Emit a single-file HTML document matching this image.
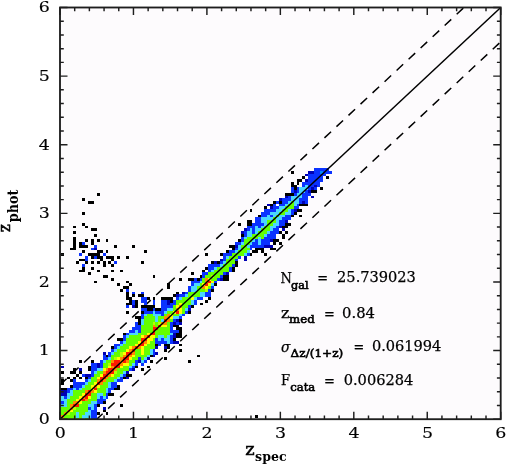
<!DOCTYPE html>
<html><head><meta charset="utf-8"><title>z_phot vs z_spec</title>
<style>html,body{margin:0;padding:0;background:#fff;width:507px;height:467px;overflow:hidden}svg{display:block}</style>
</head><body>
<svg width="507" height="467" viewBox="0 0 507 467"><rect x="0" y="0" width="507" height="467" fill="#ffffff"/>
<rect x="60" y="7.5" width="440.7" height="411.7" fill="#fdfbfd"/>
<defs><clipPath id="pc"><rect x="60" y="7.5" width="440.7" height="411.7"/></clipPath></defs>
<g clip-path="url(#pc)"><line x1="60" y1="384.89" x2="500.7" y2="-26.81" stroke="#000" stroke-width="1.5" stroke-dasharray="9 7.45"/><line x1="60" y1="453.51" x2="500.7" y2="41.81" stroke="#000" stroke-width="1.5" stroke-dasharray="9 7.45"/></g>
<g shape-rendering="crispEdges"><rect x="60" y="417.83" width="1.47" height="1.37" fill="#ffff00"/><rect x="61.47" y="417.83" width="2.94" height="1.37" fill="#ffff00"/><rect x="64.41" y="417.83" width="2.94" height="1.37" fill="#64ff00"/><rect x="67.34" y="417.83" width="2.94" height="1.37" fill="#64ff00"/><rect x="70.28" y="417.83" width="2.94" height="1.37" fill="#64ff00"/><rect x="73.22" y="417.83" width="2.94" height="1.37" fill="#64ff00"/><rect x="76.16" y="417.83" width="2.94" height="1.37" fill="#64ff00"/><rect x="79.1" y="417.83" width="2.94" height="1.37" fill="#64ff00"/><rect x="82.03" y="417.83" width="2.94" height="1.37" fill="#4ad6ff"/><rect x="84.97" y="417.83" width="2.94" height="1.37" fill="#64ff00"/><rect x="87.91" y="417.83" width="2.94" height="1.37" fill="#4ad6ff"/><rect x="90.85" y="417.83" width="2.94" height="1.37" fill="#0a32ff"/><rect x="93.79" y="417.83" width="2.94" height="1.37" fill="#0a32ff"/><rect x="60" y="415.08" width="1.47" height="2.74" fill="#64ff00"/><rect x="61.47" y="415.08" width="2.94" height="2.74" fill="#ff8c00"/><rect x="64.41" y="415.08" width="2.94" height="2.74" fill="#64ff00"/><rect x="67.34" y="415.08" width="2.94" height="2.74" fill="#64ff00"/><rect x="70.28" y="415.08" width="2.94" height="2.74" fill="#64ff00"/><rect x="73.22" y="415.08" width="2.94" height="2.74" fill="#64ff00"/><rect x="76.16" y="415.08" width="2.94" height="2.74" fill="#4ad6ff"/><rect x="79.1" y="415.08" width="2.94" height="2.74" fill="#64ff00"/><rect x="82.03" y="415.08" width="2.94" height="2.74" fill="#4ad6ff"/><rect x="84.97" y="415.08" width="2.94" height="2.74" fill="#4ad6ff"/><rect x="87.91" y="415.08" width="2.94" height="2.74" fill="#4ad6ff"/><rect x="90.85" y="415.08" width="2.94" height="2.74" fill="#0a32ff"/><rect x="93.79" y="415.08" width="2.94" height="2.74" fill="#0a32ff"/><rect x="255.38" y="415.08" width="2.94" height="2.74" fill="#000000"/><rect x="60" y="412.34" width="1.47" height="2.74" fill="#64ff00"/><rect x="61.47" y="412.34" width="2.94" height="2.74" fill="#64ff00"/><rect x="64.41" y="412.34" width="2.94" height="2.74" fill="#ff8c00"/><rect x="67.34" y="412.34" width="2.94" height="2.74" fill="#b4ff00"/><rect x="70.28" y="412.34" width="2.94" height="2.74" fill="#64ff00"/><rect x="73.22" y="412.34" width="2.94" height="2.74" fill="#64ff00"/><rect x="76.16" y="412.34" width="2.94" height="2.74" fill="#4ad6ff"/><rect x="79.1" y="412.34" width="2.94" height="2.74" fill="#64ff00"/><rect x="82.03" y="412.34" width="2.94" height="2.74" fill="#64ff00"/><rect x="84.97" y="412.34" width="2.94" height="2.74" fill="#4ad6ff"/><rect x="87.91" y="412.34" width="2.94" height="2.74" fill="#4ad6ff"/><rect x="90.85" y="412.34" width="2.94" height="2.74" fill="#0a32ff"/><rect x="93.79" y="412.34" width="2.94" height="2.74" fill="#0a32ff"/><rect x="96.72" y="412.34" width="2.94" height="2.74" fill="#000000"/><rect x="105.54" y="412.34" width="2.94" height="2.74" fill="#000000"/><rect x="60" y="409.59" width="1.47" height="2.74" fill="#64ff00"/><rect x="61.47" y="409.59" width="2.94" height="2.74" fill="#64ff00"/><rect x="64.41" y="409.59" width="2.94" height="2.74" fill="#64ff00"/><rect x="67.34" y="409.59" width="2.94" height="2.74" fill="#ff8c00"/><rect x="70.28" y="409.59" width="2.94" height="2.74" fill="#ffff00"/><rect x="73.22" y="409.59" width="2.94" height="2.74" fill="#64ff00"/><rect x="76.16" y="409.59" width="2.94" height="2.74" fill="#64ff00"/><rect x="79.1" y="409.59" width="2.94" height="2.74" fill="#64ff00"/><rect x="82.03" y="409.59" width="2.94" height="2.74" fill="#64ff00"/><rect x="84.97" y="409.59" width="2.94" height="2.74" fill="#64ff00"/><rect x="87.91" y="409.59" width="2.94" height="2.74" fill="#4ad6ff"/><rect x="90.85" y="409.59" width="2.94" height="2.74" fill="#0a32ff"/><rect x="93.79" y="409.59" width="2.94" height="2.74" fill="#0a32ff"/><rect x="102.6" y="409.59" width="2.94" height="2.74" fill="#000000"/><rect x="60" y="406.85" width="1.47" height="2.74" fill="#64ff00"/><rect x="61.47" y="406.85" width="2.94" height="2.74" fill="#64ff00"/><rect x="64.41" y="406.85" width="2.94" height="2.74" fill="#64ff00"/><rect x="67.34" y="406.85" width="2.94" height="2.74" fill="#64ff00"/><rect x="70.28" y="406.85" width="2.94" height="2.74" fill="#ff8c00"/><rect x="73.22" y="406.85" width="2.94" height="2.74" fill="#b4ff00"/><rect x="76.16" y="406.85" width="2.94" height="2.74" fill="#64ff00"/><rect x="79.1" y="406.85" width="2.94" height="2.74" fill="#64ff00"/><rect x="82.03" y="406.85" width="2.94" height="2.74" fill="#64ff00"/><rect x="84.97" y="406.85" width="2.94" height="2.74" fill="#64ff00"/><rect x="87.91" y="406.85" width="2.94" height="2.74" fill="#0a32ff"/><rect x="90.85" y="406.85" width="2.94" height="2.74" fill="#4ad6ff"/><rect x="93.79" y="406.85" width="2.94" height="2.74" fill="#0a32ff"/><rect x="102.6" y="406.85" width="2.94" height="2.74" fill="#0000b4"/><rect x="60" y="404.1" width="1.47" height="2.74" fill="#4ad6ff"/><rect x="61.47" y="404.1" width="2.94" height="2.74" fill="#4ad6ff"/><rect x="64.41" y="404.1" width="2.94" height="2.74" fill="#4ad6ff"/><rect x="67.34" y="404.1" width="2.94" height="2.74" fill="#64ff00"/><rect x="70.28" y="404.1" width="2.94" height="2.74" fill="#ff8c00"/><rect x="73.22" y="404.1" width="2.94" height="2.74" fill="#ff1a00"/><rect x="76.16" y="404.1" width="2.94" height="2.74" fill="#ff1a00"/><rect x="79.1" y="404.1" width="2.94" height="2.74" fill="#64ff00"/><rect x="82.03" y="404.1" width="2.94" height="2.74" fill="#64ff00"/><rect x="84.97" y="404.1" width="2.94" height="2.74" fill="#64ff00"/><rect x="87.91" y="404.1" width="2.94" height="2.74" fill="#4ad6ff"/><rect x="90.85" y="404.1" width="2.94" height="2.74" fill="#4ad6ff"/><rect x="93.79" y="404.1" width="2.94" height="2.74" fill="#0a32ff"/><rect x="96.72" y="404.1" width="2.94" height="2.74" fill="#000000"/><rect x="120.23" y="404.1" width="2.94" height="2.74" fill="#000000"/><rect x="60" y="401.36" width="1.47" height="2.74" fill="#0a32ff"/><rect x="61.47" y="401.36" width="2.94" height="2.74" fill="#0a32ff"/><rect x="64.41" y="401.36" width="2.94" height="2.74" fill="#4ad6ff"/><rect x="67.34" y="401.36" width="2.94" height="2.74" fill="#64ff00"/><rect x="70.28" y="401.36" width="2.94" height="2.74" fill="#64ff00"/><rect x="73.22" y="401.36" width="2.94" height="2.74" fill="#ff8c00"/><rect x="76.16" y="401.36" width="2.94" height="2.74" fill="#ff8c00"/><rect x="79.1" y="401.36" width="2.94" height="2.74" fill="#ffff00"/><rect x="82.03" y="401.36" width="2.94" height="2.74" fill="#64ff00"/><rect x="84.97" y="401.36" width="2.94" height="2.74" fill="#64ff00"/><rect x="87.91" y="401.36" width="2.94" height="2.74" fill="#64ff00"/><rect x="90.85" y="401.36" width="2.94" height="2.74" fill="#4ad6ff"/><rect x="93.79" y="401.36" width="2.94" height="2.74" fill="#4ad6ff"/><rect x="96.72" y="401.36" width="2.94" height="2.74" fill="#0a32ff"/><rect x="99.66" y="401.36" width="2.94" height="2.74" fill="#0a32ff"/><rect x="102.6" y="401.36" width="2.94" height="2.74" fill="#000000"/><rect x="60" y="398.62" width="1.47" height="2.74" fill="#4ad6ff"/><rect x="61.47" y="398.62" width="2.94" height="2.74" fill="#4ad6ff"/><rect x="64.41" y="398.62" width="2.94" height="2.74" fill="#4ad6ff"/><rect x="67.34" y="398.62" width="2.94" height="2.74" fill="#64ff00"/><rect x="70.28" y="398.62" width="2.94" height="2.74" fill="#64ff00"/><rect x="73.22" y="398.62" width="2.94" height="2.74" fill="#64ff00"/><rect x="76.16" y="398.62" width="2.94" height="2.74" fill="#ffff00"/><rect x="79.1" y="398.62" width="2.94" height="2.74" fill="#ff8c00"/><rect x="82.03" y="398.62" width="2.94" height="2.74" fill="#ff1a00"/><rect x="84.97" y="398.62" width="2.94" height="2.74" fill="#ff8c00"/><rect x="87.91" y="398.62" width="2.94" height="2.74" fill="#64ff00"/><rect x="90.85" y="398.62" width="2.94" height="2.74" fill="#64ff00"/><rect x="93.79" y="398.62" width="2.94" height="2.74" fill="#64ff00"/><rect x="96.72" y="398.62" width="2.94" height="2.74" fill="#0a32ff"/><rect x="99.66" y="398.62" width="2.94" height="2.74" fill="#0a32ff"/><rect x="102.6" y="398.62" width="2.94" height="2.74" fill="#0a32ff"/><rect x="60" y="395.87" width="1.47" height="2.74" fill="#4ad6ff"/><rect x="61.47" y="395.87" width="2.94" height="2.74" fill="#4ad6ff"/><rect x="64.41" y="395.87" width="2.94" height="2.74" fill="#0a32ff"/><rect x="67.34" y="395.87" width="2.94" height="2.74" fill="#4ad6ff"/><rect x="70.28" y="395.87" width="2.94" height="2.74" fill="#64ff00"/><rect x="73.22" y="395.87" width="2.94" height="2.74" fill="#64ff00"/><rect x="76.16" y="395.87" width="2.94" height="2.74" fill="#64ff00"/><rect x="79.1" y="395.87" width="2.94" height="2.74" fill="#ffff00"/><rect x="82.03" y="395.87" width="2.94" height="2.74" fill="#ff8c00"/><rect x="84.97" y="395.87" width="2.94" height="2.74" fill="#ff1a00"/><rect x="87.91" y="395.87" width="2.94" height="2.74" fill="#ffff00"/><rect x="90.85" y="395.87" width="2.94" height="2.74" fill="#64ff00"/><rect x="93.79" y="395.87" width="2.94" height="2.74" fill="#64ff00"/><rect x="96.72" y="395.87" width="2.94" height="2.74" fill="#4ad6ff"/><rect x="99.66" y="395.87" width="2.94" height="2.74" fill="#0a32ff"/><rect x="102.6" y="395.87" width="2.94" height="2.74" fill="#4ad6ff"/><rect x="105.54" y="395.87" width="2.94" height="2.74" fill="#0a32ff"/><rect x="60" y="393.13" width="1.47" height="2.74" fill="#0000b4"/><rect x="61.47" y="393.13" width="2.94" height="2.74" fill="#0000b4"/><rect x="64.41" y="393.13" width="2.94" height="2.74" fill="#0000b4"/><rect x="67.34" y="393.13" width="2.94" height="2.74" fill="#4ad6ff"/><rect x="70.28" y="393.13" width="2.94" height="2.74" fill="#4ad6ff"/><rect x="73.22" y="393.13" width="2.94" height="2.74" fill="#64ff00"/><rect x="76.16" y="393.13" width="2.94" height="2.74" fill="#64ff00"/><rect x="79.1" y="393.13" width="2.94" height="2.74" fill="#64ff00"/><rect x="82.03" y="393.13" width="2.94" height="2.74" fill="#ffff00"/><rect x="84.97" y="393.13" width="2.94" height="2.74" fill="#ff1a00"/><rect x="87.91" y="393.13" width="2.94" height="2.74" fill="#ff1a00"/><rect x="90.85" y="393.13" width="2.94" height="2.74" fill="#64ff00"/><rect x="93.79" y="393.13" width="2.94" height="2.74" fill="#64ff00"/><rect x="96.72" y="393.13" width="2.94" height="2.74" fill="#4ad6ff"/><rect x="99.66" y="393.13" width="2.94" height="2.74" fill="#4ad6ff"/><rect x="102.6" y="393.13" width="2.94" height="2.74" fill="#64ff00"/><rect x="105.54" y="393.13" width="2.94" height="2.74" fill="#0a32ff"/><rect x="108.48" y="393.13" width="2.94" height="2.74" fill="#000000"/><rect x="111.42" y="393.13" width="2.94" height="2.74" fill="#000000"/><rect x="60" y="390.38" width="1.47" height="2.74" fill="#0000b4"/><rect x="61.47" y="390.38" width="2.94" height="2.74" fill="#0000b4"/><rect x="64.41" y="390.38" width="2.94" height="2.74" fill="#0000b4"/><rect x="67.34" y="390.38" width="2.94" height="2.74" fill="#0a32ff"/><rect x="70.28" y="390.38" width="2.94" height="2.74" fill="#4ad6ff"/><rect x="73.22" y="390.38" width="2.94" height="2.74" fill="#64ff00"/><rect x="76.16" y="390.38" width="2.94" height="2.74" fill="#64ff00"/><rect x="79.1" y="390.38" width="2.94" height="2.74" fill="#64ff00"/><rect x="82.03" y="390.38" width="2.94" height="2.74" fill="#64ff00"/><rect x="84.97" y="390.38" width="2.94" height="2.74" fill="#ff8c00"/><rect x="87.91" y="390.38" width="2.94" height="2.74" fill="#ff1a00"/><rect x="90.85" y="390.38" width="2.94" height="2.74" fill="#ff8c00"/><rect x="93.79" y="390.38" width="2.94" height="2.74" fill="#ffff00"/><rect x="96.72" y="390.38" width="2.94" height="2.74" fill="#64ff00"/><rect x="99.66" y="390.38" width="2.94" height="2.74" fill="#64ff00"/><rect x="102.6" y="390.38" width="2.94" height="2.74" fill="#64ff00"/><rect x="105.54" y="390.38" width="2.94" height="2.74" fill="#4ad6ff"/><rect x="108.48" y="390.38" width="2.94" height="2.74" fill="#0a32ff"/><rect x="60" y="387.64" width="1.47" height="2.74" fill="#000000"/><rect x="61.47" y="387.64" width="2.94" height="2.74" fill="#000000"/><rect x="64.41" y="387.64" width="2.94" height="2.74" fill="#000000"/><rect x="67.34" y="387.64" width="2.94" height="2.74" fill="#0a32ff"/><rect x="70.28" y="387.64" width="2.94" height="2.74" fill="#0a32ff"/><rect x="73.22" y="387.64" width="2.94" height="2.74" fill="#4ad6ff"/><rect x="76.16" y="387.64" width="2.94" height="2.74" fill="#0a32ff"/><rect x="79.1" y="387.64" width="2.94" height="2.74" fill="#4ad6ff"/><rect x="82.03" y="387.64" width="2.94" height="2.74" fill="#64ff00"/><rect x="84.97" y="387.64" width="2.94" height="2.74" fill="#64ff00"/><rect x="87.91" y="387.64" width="2.94" height="2.74" fill="#64ff00"/><rect x="90.85" y="387.64" width="2.94" height="2.74" fill="#ffff00"/><rect x="93.79" y="387.64" width="2.94" height="2.74" fill="#ff1a00"/><rect x="96.72" y="387.64" width="2.94" height="2.74" fill="#64ff00"/><rect x="99.66" y="387.64" width="2.94" height="2.74" fill="#64ff00"/><rect x="102.6" y="387.64" width="2.94" height="2.74" fill="#64ff00"/><rect x="105.54" y="387.64" width="2.94" height="2.74" fill="#4ad6ff"/><rect x="108.48" y="387.64" width="2.94" height="2.74" fill="#0a32ff"/><rect x="111.42" y="387.64" width="2.94" height="2.74" fill="#0a32ff"/><rect x="114.35" y="387.64" width="2.94" height="2.74" fill="#000000"/><rect x="117.29" y="387.64" width="2.94" height="2.74" fill="#000000"/><rect x="70.28" y="384.89" width="2.94" height="2.74" fill="#000000"/><rect x="73.22" y="384.89" width="2.94" height="2.74" fill="#0a32ff"/><rect x="76.16" y="384.89" width="2.94" height="2.74" fill="#0a32ff"/><rect x="79.1" y="384.89" width="2.94" height="2.74" fill="#0a32ff"/><rect x="82.03" y="384.89" width="2.94" height="2.74" fill="#4ad6ff"/><rect x="84.97" y="384.89" width="2.94" height="2.74" fill="#64ff00"/><rect x="87.91" y="384.89" width="2.94" height="2.74" fill="#64ff00"/><rect x="90.85" y="384.89" width="2.94" height="2.74" fill="#ffff00"/><rect x="93.79" y="384.89" width="2.94" height="2.74" fill="#ff8c00"/><rect x="96.72" y="384.89" width="2.94" height="2.74" fill="#ffff00"/><rect x="99.66" y="384.89" width="2.94" height="2.74" fill="#64ff00"/><rect x="102.6" y="384.89" width="2.94" height="2.74" fill="#64ff00"/><rect x="105.54" y="384.89" width="2.94" height="2.74" fill="#64ff00"/><rect x="108.48" y="384.89" width="2.94" height="2.74" fill="#4ad6ff"/><rect x="111.42" y="384.89" width="2.94" height="2.74" fill="#0a32ff"/><rect x="114.35" y="384.89" width="2.94" height="2.74" fill="#0a32ff"/><rect x="117.29" y="384.89" width="2.94" height="2.74" fill="#000000"/><rect x="61.47" y="382.15" width="2.94" height="2.74" fill="#000000"/><rect x="73.22" y="382.15" width="2.94" height="2.74" fill="#0a32ff"/><rect x="76.16" y="382.15" width="2.94" height="2.74" fill="#0a32ff"/><rect x="79.1" y="382.15" width="2.94" height="2.74" fill="#0a32ff"/><rect x="82.03" y="382.15" width="2.94" height="2.74" fill="#0a32ff"/><rect x="84.97" y="382.15" width="2.94" height="2.74" fill="#4ad6ff"/><rect x="87.91" y="382.15" width="2.94" height="2.74" fill="#64ff00"/><rect x="90.85" y="382.15" width="2.94" height="2.74" fill="#64ff00"/><rect x="93.79" y="382.15" width="2.94" height="2.74" fill="#ffff00"/><rect x="96.72" y="382.15" width="2.94" height="2.74" fill="#ff1a00"/><rect x="99.66" y="382.15" width="2.94" height="2.74" fill="#ff8c00"/><rect x="102.6" y="382.15" width="2.94" height="2.74" fill="#64ff00"/><rect x="105.54" y="382.15" width="2.94" height="2.74" fill="#64ff00"/><rect x="108.48" y="382.15" width="2.94" height="2.74" fill="#4ad6ff"/><rect x="111.42" y="382.15" width="2.94" height="2.74" fill="#0a32ff"/><rect x="114.35" y="382.15" width="2.94" height="2.74" fill="#0a32ff"/><rect x="61.47" y="379.4" width="2.94" height="2.74" fill="#000000"/><rect x="70.28" y="379.4" width="2.94" height="2.74" fill="#000000"/><rect x="73.22" y="379.4" width="2.94" height="2.74" fill="#0a32ff"/><rect x="84.97" y="379.4" width="2.94" height="2.74" fill="#0a32ff"/><rect x="87.91" y="379.4" width="2.94" height="2.74" fill="#4ad6ff"/><rect x="90.85" y="379.4" width="2.94" height="2.74" fill="#64ff00"/><rect x="93.79" y="379.4" width="2.94" height="2.74" fill="#64ff00"/><rect x="96.72" y="379.4" width="2.94" height="2.74" fill="#ff8c00"/><rect x="99.66" y="379.4" width="2.94" height="2.74" fill="#ff1a00"/><rect x="102.6" y="379.4" width="2.94" height="2.74" fill="#ff8c00"/><rect x="105.54" y="379.4" width="2.94" height="2.74" fill="#64ff00"/><rect x="108.48" y="379.4" width="2.94" height="2.74" fill="#64ff00"/><rect x="111.42" y="379.4" width="2.94" height="2.74" fill="#64ff00"/><rect x="114.35" y="379.4" width="2.94" height="2.74" fill="#4ad6ff"/><rect x="117.29" y="379.4" width="2.94" height="2.74" fill="#0a32ff"/><rect x="120.23" y="379.4" width="2.94" height="2.74" fill="#0a32ff"/><rect x="67.34" y="376.66" width="2.94" height="2.74" fill="#000000"/><rect x="73.22" y="376.66" width="2.94" height="2.74" fill="#000000"/><rect x="79.1" y="376.66" width="2.94" height="2.74" fill="#000000"/><rect x="84.97" y="376.66" width="2.94" height="2.74" fill="#000000"/><rect x="87.91" y="376.66" width="2.94" height="2.74" fill="#0a32ff"/><rect x="90.85" y="376.66" width="2.94" height="2.74" fill="#64ff00"/><rect x="93.79" y="376.66" width="2.94" height="2.74" fill="#64ff00"/><rect x="96.72" y="376.66" width="2.94" height="2.74" fill="#ffff00"/><rect x="99.66" y="376.66" width="2.94" height="2.74" fill="#ff1a00"/><rect x="102.6" y="376.66" width="2.94" height="2.74" fill="#ff1a00"/><rect x="105.54" y="376.66" width="2.94" height="2.74" fill="#ff8c00"/><rect x="108.48" y="376.66" width="2.94" height="2.74" fill="#64ff00"/><rect x="111.42" y="376.66" width="2.94" height="2.74" fill="#64ff00"/><rect x="114.35" y="376.66" width="2.94" height="2.74" fill="#64ff00"/><rect x="117.29" y="376.66" width="2.94" height="2.74" fill="#4ad6ff"/><rect x="120.23" y="376.66" width="2.94" height="2.74" fill="#0a32ff"/><rect x="123.17" y="376.66" width="2.94" height="2.74" fill="#000000"/><rect x="126.11" y="376.66" width="2.94" height="2.74" fill="#0000b4"/><rect x="76.16" y="373.91" width="2.94" height="2.74" fill="#000000"/><rect x="82.03" y="373.91" width="2.94" height="2.74" fill="#0a32ff"/><rect x="84.97" y="373.91" width="2.94" height="2.74" fill="#0000b4"/><rect x="87.91" y="373.91" width="2.94" height="2.74" fill="#0000b4"/><rect x="90.85" y="373.91" width="2.94" height="2.74" fill="#0a32ff"/><rect x="93.79" y="373.91" width="2.94" height="2.74" fill="#64ff00"/><rect x="96.72" y="373.91" width="2.94" height="2.74" fill="#64ff00"/><rect x="99.66" y="373.91" width="2.94" height="2.74" fill="#ffff00"/><rect x="102.6" y="373.91" width="2.94" height="2.74" fill="#ff1a00"/><rect x="105.54" y="373.91" width="2.94" height="2.74" fill="#ff1a00"/><rect x="108.48" y="373.91" width="2.94" height="2.74" fill="#ff8c00"/><rect x="111.42" y="373.91" width="2.94" height="2.74" fill="#ffff00"/><rect x="114.35" y="373.91" width="2.94" height="2.74" fill="#64ff00"/><rect x="117.29" y="373.91" width="2.94" height="2.74" fill="#64ff00"/><rect x="120.23" y="373.91" width="2.94" height="2.74" fill="#4ad6ff"/><rect x="123.17" y="373.91" width="2.94" height="2.74" fill="#0a32ff"/><rect x="126.11" y="373.91" width="2.94" height="2.74" fill="#000000"/><rect x="129.04" y="373.91" width="2.94" height="2.74" fill="#000000"/><rect x="61.47" y="371.17" width="2.94" height="2.74" fill="#000000"/><rect x="70.28" y="371.17" width="2.94" height="2.74" fill="#000000"/><rect x="73.22" y="371.17" width="2.94" height="2.74" fill="#000000"/><rect x="79.1" y="371.17" width="2.94" height="2.74" fill="#000000"/><rect x="90.85" y="371.17" width="2.94" height="2.74" fill="#0a32ff"/><rect x="93.79" y="371.17" width="2.94" height="2.74" fill="#4ad6ff"/><rect x="96.72" y="371.17" width="2.94" height="2.74" fill="#64ff00"/><rect x="99.66" y="371.17" width="2.94" height="2.74" fill="#64ff00"/><rect x="102.6" y="371.17" width="2.94" height="2.74" fill="#ff8c00"/><rect x="105.54" y="371.17" width="2.94" height="2.74" fill="#ff1a00"/><rect x="108.48" y="371.17" width="2.94" height="2.74" fill="#ff1a00"/><rect x="111.42" y="371.17" width="2.94" height="2.74" fill="#ff1a00"/><rect x="114.35" y="371.17" width="2.94" height="2.74" fill="#b4ff00"/><rect x="117.29" y="371.17" width="2.94" height="2.74" fill="#64ff00"/><rect x="120.23" y="371.17" width="2.94" height="2.74" fill="#64ff00"/><rect x="123.17" y="371.17" width="2.94" height="2.74" fill="#4ad6ff"/><rect x="126.11" y="371.17" width="2.94" height="2.74" fill="#0000b4"/><rect x="73.22" y="368.42" width="2.94" height="2.74" fill="#000000"/><rect x="79.1" y="368.42" width="2.94" height="2.74" fill="#0000b4"/><rect x="87.91" y="368.42" width="2.94" height="2.74" fill="#000000"/><rect x="90.85" y="368.42" width="2.94" height="2.74" fill="#0a32ff"/><rect x="93.79" y="368.42" width="2.94" height="2.74" fill="#0a32ff"/><rect x="96.72" y="368.42" width="2.94" height="2.74" fill="#4ad6ff"/><rect x="99.66" y="368.42" width="2.94" height="2.74" fill="#4ad6ff"/><rect x="102.6" y="368.42" width="2.94" height="2.74" fill="#ffff00"/><rect x="105.54" y="368.42" width="2.94" height="2.74" fill="#ff8c00"/><rect x="108.48" y="368.42" width="2.94" height="2.74" fill="#ff1a00"/><rect x="111.42" y="368.42" width="2.94" height="2.74" fill="#ff1a00"/><rect x="114.35" y="368.42" width="2.94" height="2.74" fill="#ff8c00"/><rect x="117.29" y="368.42" width="2.94" height="2.74" fill="#64ff00"/><rect x="120.23" y="368.42" width="2.94" height="2.74" fill="#64ff00"/><rect x="123.17" y="368.42" width="2.94" height="2.74" fill="#64ff00"/><rect x="126.11" y="368.42" width="2.94" height="2.74" fill="#64ff00"/><rect x="129.04" y="368.42" width="2.94" height="2.74" fill="#0a32ff"/><rect x="131.98" y="368.42" width="2.94" height="2.74" fill="#0000b4"/><rect x="140.8" y="368.42" width="2.94" height="2.74" fill="#000000"/><rect x="61.47" y="365.68" width="2.94" height="2.74" fill="#0000b4"/><rect x="87.91" y="365.68" width="2.94" height="2.74" fill="#000000"/><rect x="90.85" y="365.68" width="2.94" height="2.74" fill="#0a32ff"/><rect x="93.79" y="365.68" width="2.94" height="2.74" fill="#0a32ff"/><rect x="96.72" y="365.68" width="2.94" height="2.74" fill="#0000b4"/><rect x="99.66" y="365.68" width="2.94" height="2.74" fill="#0a32ff"/><rect x="102.6" y="365.68" width="2.94" height="2.74" fill="#64ff00"/><rect x="105.54" y="365.68" width="2.94" height="2.74" fill="#64ff00"/><rect x="108.48" y="365.68" width="2.94" height="2.74" fill="#ffff00"/><rect x="111.42" y="365.68" width="2.94" height="2.74" fill="#ff8c00"/><rect x="114.35" y="365.68" width="2.94" height="2.74" fill="#ff1a00"/><rect x="117.29" y="365.68" width="2.94" height="2.74" fill="#ff1a00"/><rect x="120.23" y="365.68" width="2.94" height="2.74" fill="#ffff00"/><rect x="123.17" y="365.68" width="2.94" height="2.74" fill="#64ff00"/><rect x="126.11" y="365.68" width="2.94" height="2.74" fill="#64ff00"/><rect x="129.04" y="365.68" width="2.94" height="2.74" fill="#4ad6ff"/><rect x="131.98" y="365.68" width="2.94" height="2.74" fill="#0a32ff"/><rect x="134.92" y="365.68" width="2.94" height="2.74" fill="#000000"/><rect x="146.67" y="365.68" width="2.94" height="2.74" fill="#000000"/><rect x="90.85" y="362.93" width="2.94" height="2.74" fill="#0a32ff"/><rect x="93.79" y="362.93" width="2.94" height="2.74" fill="#0a32ff"/><rect x="96.72" y="362.93" width="2.94" height="2.74" fill="#0000b4"/><rect x="99.66" y="362.93" width="2.94" height="2.74" fill="#0a32ff"/><rect x="102.6" y="362.93" width="2.94" height="2.74" fill="#64ff00"/><rect x="105.54" y="362.93" width="2.94" height="2.74" fill="#64ff00"/><rect x="108.48" y="362.93" width="2.94" height="2.74" fill="#b4ff00"/><rect x="111.42" y="362.93" width="2.94" height="2.74" fill="#ff1a00"/><rect x="114.35" y="362.93" width="2.94" height="2.74" fill="#ff1a00"/><rect x="117.29" y="362.93" width="2.94" height="2.74" fill="#ff1a00"/><rect x="120.23" y="362.93" width="2.94" height="2.74" fill="#ff8c00"/><rect x="123.17" y="362.93" width="2.94" height="2.74" fill="#ffff00"/><rect x="126.11" y="362.93" width="2.94" height="2.74" fill="#ffff00"/><rect x="129.04" y="362.93" width="2.94" height="2.74" fill="#64ff00"/><rect x="131.98" y="362.93" width="2.94" height="2.74" fill="#4ad6ff"/><rect x="134.92" y="362.93" width="2.94" height="2.74" fill="#0a32ff"/><rect x="140.8" y="362.93" width="2.94" height="2.74" fill="#0a32ff"/><rect x="79.1" y="360.19" width="2.94" height="2.74" fill="#000000"/><rect x="90.85" y="360.19" width="2.94" height="2.74" fill="#000000"/><rect x="99.66" y="360.19" width="2.94" height="2.74" fill="#0a32ff"/><rect x="102.6" y="360.19" width="2.94" height="2.74" fill="#4ad6ff"/><rect x="105.54" y="360.19" width="2.94" height="2.74" fill="#64ff00"/><rect x="108.48" y="360.19" width="2.94" height="2.74" fill="#64ff00"/><rect x="111.42" y="360.19" width="2.94" height="2.74" fill="#ff8c00"/><rect x="114.35" y="360.19" width="2.94" height="2.74" fill="#ff1a00"/><rect x="117.29" y="360.19" width="2.94" height="2.74" fill="#ff1a00"/><rect x="120.23" y="360.19" width="2.94" height="2.74" fill="#ff8c00"/><rect x="123.17" y="360.19" width="2.94" height="2.74" fill="#ff1a00"/><rect x="126.11" y="360.19" width="2.94" height="2.74" fill="#ff8c00"/><rect x="129.04" y="360.19" width="2.94" height="2.74" fill="#64ff00"/><rect x="131.98" y="360.19" width="2.94" height="2.74" fill="#64ff00"/><rect x="134.92" y="360.19" width="2.94" height="2.74" fill="#0a32ff"/><rect x="137.86" y="360.19" width="2.94" height="2.74" fill="#0000b4"/><rect x="140.8" y="360.19" width="2.94" height="2.74" fill="#4ad6ff"/><rect x="143.73" y="360.19" width="2.94" height="2.74" fill="#0a32ff"/><rect x="149.61" y="360.19" width="2.94" height="2.74" fill="#000000"/><rect x="187.8" y="360.19" width="2.94" height="2.74" fill="#000000"/><rect x="102.6" y="357.44" width="2.94" height="2.74" fill="#0a32ff"/><rect x="105.54" y="357.44" width="2.94" height="2.74" fill="#0a32ff"/><rect x="108.48" y="357.44" width="2.94" height="2.74" fill="#4ad6ff"/><rect x="111.42" y="357.44" width="2.94" height="2.74" fill="#64ff00"/><rect x="114.35" y="357.44" width="2.94" height="2.74" fill="#b4ff00"/><rect x="117.29" y="357.44" width="2.94" height="2.74" fill="#ffff00"/><rect x="120.23" y="357.44" width="2.94" height="2.74" fill="#ff8c00"/><rect x="123.17" y="357.44" width="2.94" height="2.74" fill="#ff1a00"/><rect x="126.11" y="357.44" width="2.94" height="2.74" fill="#ff1a00"/><rect x="129.04" y="357.44" width="2.94" height="2.74" fill="#ffff00"/><rect x="131.98" y="357.44" width="2.94" height="2.74" fill="#64ff00"/><rect x="134.92" y="357.44" width="2.94" height="2.74" fill="#64ff00"/><rect x="137.86" y="357.44" width="2.94" height="2.74" fill="#0a32ff"/><rect x="140.8" y="357.44" width="2.94" height="2.74" fill="#64ff00"/><rect x="143.73" y="357.44" width="2.94" height="2.74" fill="#4ad6ff"/><rect x="146.67" y="357.44" width="2.94" height="2.74" fill="#0000b4"/><rect x="164.3" y="357.44" width="2.94" height="2.74" fill="#000000"/><rect x="102.6" y="354.7" width="2.94" height="2.74" fill="#0a32ff"/><rect x="105.54" y="354.7" width="2.94" height="2.74" fill="#000000"/><rect x="108.48" y="354.7" width="2.94" height="2.74" fill="#0a32ff"/><rect x="111.42" y="354.7" width="2.94" height="2.74" fill="#64ff00"/><rect x="114.35" y="354.7" width="2.94" height="2.74" fill="#64ff00"/><rect x="117.29" y="354.7" width="2.94" height="2.74" fill="#64ff00"/><rect x="120.23" y="354.7" width="2.94" height="2.74" fill="#b4ff00"/><rect x="123.17" y="354.7" width="2.94" height="2.74" fill="#ff8c00"/><rect x="126.11" y="354.7" width="2.94" height="2.74" fill="#ff1a00"/><rect x="129.04" y="354.7" width="2.94" height="2.74" fill="#ff8c00"/><rect x="131.98" y="354.7" width="2.94" height="2.74" fill="#ffff00"/><rect x="134.92" y="354.7" width="2.94" height="2.74" fill="#64ff00"/><rect x="137.86" y="354.7" width="2.94" height="2.74" fill="#64ff00"/><rect x="140.8" y="354.7" width="2.94" height="2.74" fill="#64ff00"/><rect x="143.73" y="354.7" width="2.94" height="2.74" fill="#64ff00"/><rect x="146.67" y="354.7" width="2.94" height="2.74" fill="#4ad6ff"/><rect x="149.61" y="354.7" width="2.94" height="2.74" fill="#000000"/><rect x="152.55" y="354.7" width="2.94" height="2.74" fill="#0000b4"/><rect x="196.62" y="354.7" width="2.94" height="2.74" fill="#000000"/><rect x="102.6" y="351.96" width="2.94" height="2.74" fill="#0000b4"/><rect x="108.48" y="351.96" width="2.94" height="2.74" fill="#0a32ff"/><rect x="111.42" y="351.96" width="2.94" height="2.74" fill="#4ad6ff"/><rect x="114.35" y="351.96" width="2.94" height="2.74" fill="#64ff00"/><rect x="117.29" y="351.96" width="2.94" height="2.74" fill="#64ff00"/><rect x="120.23" y="351.96" width="2.94" height="2.74" fill="#b4ff00"/><rect x="123.17" y="351.96" width="2.94" height="2.74" fill="#ffff00"/><rect x="126.11" y="351.96" width="2.94" height="2.74" fill="#ff1a00"/><rect x="129.04" y="351.96" width="2.94" height="2.74" fill="#ff1a00"/><rect x="131.98" y="351.96" width="2.94" height="2.74" fill="#ff8c00"/><rect x="134.92" y="351.96" width="2.94" height="2.74" fill="#64ff00"/><rect x="137.86" y="351.96" width="2.94" height="2.74" fill="#64ff00"/><rect x="140.8" y="351.96" width="2.94" height="2.74" fill="#ffff00"/><rect x="143.73" y="351.96" width="2.94" height="2.74" fill="#64ff00"/><rect x="146.67" y="351.96" width="2.94" height="2.74" fill="#64ff00"/><rect x="149.61" y="351.96" width="2.94" height="2.74" fill="#4ad6ff"/><rect x="152.55" y="351.96" width="2.94" height="2.74" fill="#0a32ff"/><rect x="155.49" y="351.96" width="2.94" height="2.74" fill="#0000b4"/><rect x="111.42" y="349.21" width="2.94" height="2.74" fill="#0a32ff"/><rect x="114.35" y="349.21" width="2.94" height="2.74" fill="#4ad6ff"/><rect x="117.29" y="349.21" width="2.94" height="2.74" fill="#64ff00"/><rect x="120.23" y="349.21" width="2.94" height="2.74" fill="#64ff00"/><rect x="123.17" y="349.21" width="2.94" height="2.74" fill="#64ff00"/><rect x="126.11" y="349.21" width="2.94" height="2.74" fill="#ffff00"/><rect x="129.04" y="349.21" width="2.94" height="2.74" fill="#ff8c00"/><rect x="131.98" y="349.21" width="2.94" height="2.74" fill="#ff1a00"/><rect x="134.92" y="349.21" width="2.94" height="2.74" fill="#64ff00"/><rect x="137.86" y="349.21" width="2.94" height="2.74" fill="#64ff00"/><rect x="140.8" y="349.21" width="2.94" height="2.74" fill="#ffff00"/><rect x="143.73" y="349.21" width="2.94" height="2.74" fill="#64ff00"/><rect x="146.67" y="349.21" width="2.94" height="2.74" fill="#64ff00"/><rect x="149.61" y="349.21" width="2.94" height="2.74" fill="#4ad6ff"/><rect x="152.55" y="349.21" width="2.94" height="2.74" fill="#0a32ff"/><rect x="164.3" y="349.21" width="2.94" height="2.74" fill="#000000"/><rect x="178.99" y="349.21" width="2.94" height="2.74" fill="#000000"/><rect x="111.42" y="346.47" width="2.94" height="2.74" fill="#000000"/><rect x="114.35" y="346.47" width="2.94" height="2.74" fill="#0a32ff"/><rect x="117.29" y="346.47" width="2.94" height="2.74" fill="#4ad6ff"/><rect x="120.23" y="346.47" width="2.94" height="2.74" fill="#64ff00"/><rect x="123.17" y="346.47" width="2.94" height="2.74" fill="#64ff00"/><rect x="126.11" y="346.47" width="2.94" height="2.74" fill="#64ff00"/><rect x="129.04" y="346.47" width="2.94" height="2.74" fill="#ffff00"/><rect x="131.98" y="346.47" width="2.94" height="2.74" fill="#ff8c00"/><rect x="134.92" y="346.47" width="2.94" height="2.74" fill="#ff1a00"/><rect x="137.86" y="346.47" width="2.94" height="2.74" fill="#ff8c00"/><rect x="140.8" y="346.47" width="2.94" height="2.74" fill="#ffff00"/><rect x="143.73" y="346.47" width="2.94" height="2.74" fill="#64ff00"/><rect x="146.67" y="346.47" width="2.94" height="2.74" fill="#64ff00"/><rect x="149.61" y="346.47" width="2.94" height="2.74" fill="#64ff00"/><rect x="152.55" y="346.47" width="2.94" height="2.74" fill="#64ff00"/><rect x="155.49" y="346.47" width="2.94" height="2.74" fill="#0000b4"/><rect x="164.3" y="346.47" width="2.94" height="2.74" fill="#0000b4"/><rect x="167.24" y="346.47" width="2.94" height="2.74" fill="#000000"/><rect x="114.35" y="343.72" width="2.94" height="2.74" fill="#0a32ff"/><rect x="117.29" y="343.72" width="2.94" height="2.74" fill="#0a32ff"/><rect x="120.23" y="343.72" width="2.94" height="2.74" fill="#4ad6ff"/><rect x="123.17" y="343.72" width="2.94" height="2.74" fill="#64ff00"/><rect x="126.11" y="343.72" width="2.94" height="2.74" fill="#64ff00"/><rect x="129.04" y="343.72" width="2.94" height="2.74" fill="#64ff00"/><rect x="131.98" y="343.72" width="2.94" height="2.74" fill="#64ff00"/><rect x="134.92" y="343.72" width="2.94" height="2.74" fill="#ffff00"/><rect x="137.86" y="343.72" width="2.94" height="2.74" fill="#ff1a00"/><rect x="140.8" y="343.72" width="2.94" height="2.74" fill="#ff1a00"/><rect x="143.73" y="343.72" width="2.94" height="2.74" fill="#ffff00"/><rect x="146.67" y="343.72" width="2.94" height="2.74" fill="#64ff00"/><rect x="149.61" y="343.72" width="2.94" height="2.74" fill="#64ff00"/><rect x="152.55" y="343.72" width="2.94" height="2.74" fill="#64ff00"/><rect x="155.49" y="343.72" width="2.94" height="2.74" fill="#000000"/><rect x="158.42" y="343.72" width="2.94" height="2.74" fill="#0a32ff"/><rect x="164.3" y="343.72" width="2.94" height="2.74" fill="#000000"/><rect x="167.24" y="343.72" width="2.94" height="2.74" fill="#000000"/><rect x="178.99" y="343.72" width="2.94" height="2.74" fill="#000000"/><rect x="120.23" y="340.98" width="2.94" height="2.74" fill="#0a32ff"/><rect x="123.17" y="340.98" width="2.94" height="2.74" fill="#4ad6ff"/><rect x="126.11" y="340.98" width="2.94" height="2.74" fill="#64ff00"/><rect x="129.04" y="340.98" width="2.94" height="2.74" fill="#64ff00"/><rect x="131.98" y="340.98" width="2.94" height="2.74" fill="#64ff00"/><rect x="134.92" y="340.98" width="2.94" height="2.74" fill="#64ff00"/><rect x="137.86" y="340.98" width="2.94" height="2.74" fill="#ffff00"/><rect x="140.8" y="340.98" width="2.94" height="2.74" fill="#ff1a00"/><rect x="143.73" y="340.98" width="2.94" height="2.74" fill="#ff8c00"/><rect x="146.67" y="340.98" width="2.94" height="2.74" fill="#ffff00"/><rect x="149.61" y="340.98" width="2.94" height="2.74" fill="#64ff00"/><rect x="152.55" y="340.98" width="2.94" height="2.74" fill="#64ff00"/><rect x="155.49" y="340.98" width="2.94" height="2.74" fill="#0a32ff"/><rect x="158.42" y="340.98" width="2.94" height="2.74" fill="#0a32ff"/><rect x="161.36" y="340.98" width="2.94" height="2.74" fill="#0a32ff"/><rect x="164.3" y="340.98" width="2.94" height="2.74" fill="#0a32ff"/><rect x="167.24" y="340.98" width="2.94" height="2.74" fill="#4ad6ff"/><rect x="170.18" y="340.98" width="2.94" height="2.74" fill="#0a32ff"/><rect x="173.11" y="340.98" width="2.94" height="2.74" fill="#0000b4"/><rect x="176.05" y="340.98" width="2.94" height="2.74" fill="#0000b4"/><rect x="117.29" y="338.23" width="2.94" height="2.74" fill="#000000"/><rect x="120.23" y="338.23" width="2.94" height="2.74" fill="#000000"/><rect x="123.17" y="338.23" width="2.94" height="2.74" fill="#0a32ff"/><rect x="126.11" y="338.23" width="2.94" height="2.74" fill="#64ff00"/><rect x="129.04" y="338.23" width="2.94" height="2.74" fill="#64ff00"/><rect x="131.98" y="338.23" width="2.94" height="2.74" fill="#64ff00"/><rect x="134.92" y="338.23" width="2.94" height="2.74" fill="#64ff00"/><rect x="137.86" y="338.23" width="2.94" height="2.74" fill="#64ff00"/><rect x="140.8" y="338.23" width="2.94" height="2.74" fill="#ff1a00"/><rect x="143.73" y="338.23" width="2.94" height="2.74" fill="#ff1a00"/><rect x="146.67" y="338.23" width="2.94" height="2.74" fill="#ffff00"/><rect x="149.61" y="338.23" width="2.94" height="2.74" fill="#ffff00"/><rect x="152.55" y="338.23" width="2.94" height="2.74" fill="#64ff00"/><rect x="155.49" y="338.23" width="2.94" height="2.74" fill="#0a32ff"/><rect x="158.42" y="338.23" width="2.94" height="2.74" fill="#4ad6ff"/><rect x="161.36" y="338.23" width="2.94" height="2.74" fill="#0a32ff"/><rect x="164.3" y="338.23" width="2.94" height="2.74" fill="#4ad6ff"/><rect x="167.24" y="338.23" width="2.94" height="2.74" fill="#4ad6ff"/><rect x="170.18" y="338.23" width="2.94" height="2.74" fill="#0a32ff"/><rect x="173.11" y="338.23" width="2.94" height="2.74" fill="#000000"/><rect x="123.17" y="335.49" width="2.94" height="2.74" fill="#0a32ff"/><rect x="126.11" y="335.49" width="2.94" height="2.74" fill="#4ad6ff"/><rect x="129.04" y="335.49" width="2.94" height="2.74" fill="#64ff00"/><rect x="131.98" y="335.49" width="2.94" height="2.74" fill="#64ff00"/><rect x="134.92" y="335.49" width="2.94" height="2.74" fill="#64ff00"/><rect x="137.86" y="335.49" width="2.94" height="2.74" fill="#64ff00"/><rect x="140.8" y="335.49" width="2.94" height="2.74" fill="#ffff00"/><rect x="143.73" y="335.49" width="2.94" height="2.74" fill="#ff8c00"/><rect x="146.67" y="335.49" width="2.94" height="2.74" fill="#ff1a00"/><rect x="149.61" y="335.49" width="2.94" height="2.74" fill="#ffff00"/><rect x="152.55" y="335.49" width="2.94" height="2.74" fill="#ffff00"/><rect x="155.49" y="335.49" width="2.94" height="2.74" fill="#64ff00"/><rect x="158.42" y="335.49" width="2.94" height="2.74" fill="#4ad6ff"/><rect x="161.36" y="335.49" width="2.94" height="2.74" fill="#4ad6ff"/><rect x="164.3" y="335.49" width="2.94" height="2.74" fill="#64ff00"/><rect x="167.24" y="335.49" width="2.94" height="2.74" fill="#4ad6ff"/><rect x="170.18" y="335.49" width="2.94" height="2.74" fill="#0a32ff"/><rect x="173.11" y="335.49" width="2.94" height="2.74" fill="#0000b4"/><rect x="176.05" y="335.49" width="2.94" height="2.74" fill="#000000"/><rect x="178.99" y="335.49" width="2.94" height="2.74" fill="#000000"/><rect x="123.17" y="332.74" width="2.94" height="2.74" fill="#000000"/><rect x="126.11" y="332.74" width="2.94" height="2.74" fill="#0a32ff"/><rect x="129.04" y="332.74" width="2.94" height="2.74" fill="#4ad6ff"/><rect x="131.98" y="332.74" width="2.94" height="2.74" fill="#4ad6ff"/><rect x="134.92" y="332.74" width="2.94" height="2.74" fill="#4ad6ff"/><rect x="137.86" y="332.74" width="2.94" height="2.74" fill="#64ff00"/><rect x="140.8" y="332.74" width="2.94" height="2.74" fill="#64ff00"/><rect x="143.73" y="332.74" width="2.94" height="2.74" fill="#64ff00"/><rect x="146.67" y="332.74" width="2.94" height="2.74" fill="#ffff00"/><rect x="149.61" y="332.74" width="2.94" height="2.74" fill="#ff1a00"/><rect x="152.55" y="332.74" width="2.94" height="2.74" fill="#ff1a00"/><rect x="155.49" y="332.74" width="2.94" height="2.74" fill="#64ff00"/><rect x="158.42" y="332.74" width="2.94" height="2.74" fill="#64ff00"/><rect x="161.36" y="332.74" width="2.94" height="2.74" fill="#64ff00"/><rect x="164.3" y="332.74" width="2.94" height="2.74" fill="#64ff00"/><rect x="167.24" y="332.74" width="2.94" height="2.74" fill="#64ff00"/><rect x="170.18" y="332.74" width="2.94" height="2.74" fill="#4ad6ff"/><rect x="173.11" y="332.74" width="2.94" height="2.74" fill="#0000b4"/><rect x="176.05" y="332.74" width="2.94" height="2.74" fill="#000000"/><rect x="178.99" y="332.74" width="2.94" height="2.74" fill="#000000"/><rect x="129.04" y="330" width="2.94" height="2.74" fill="#0a32ff"/><rect x="131.98" y="330" width="2.94" height="2.74" fill="#0a32ff"/><rect x="134.92" y="330" width="2.94" height="2.74" fill="#4ad6ff"/><rect x="137.86" y="330" width="2.94" height="2.74" fill="#0a32ff"/><rect x="140.8" y="330" width="2.94" height="2.74" fill="#64ff00"/><rect x="143.73" y="330" width="2.94" height="2.74" fill="#64ff00"/><rect x="146.67" y="330" width="2.94" height="2.74" fill="#64ff00"/><rect x="149.61" y="330" width="2.94" height="2.74" fill="#64ff00"/><rect x="152.55" y="330" width="2.94" height="2.74" fill="#ff1a00"/><rect x="155.49" y="330" width="2.94" height="2.74" fill="#64ff00"/><rect x="158.42" y="330" width="2.94" height="2.74" fill="#64ff00"/><rect x="161.36" y="330" width="2.94" height="2.74" fill="#64ff00"/><rect x="164.3" y="330" width="2.94" height="2.74" fill="#64ff00"/><rect x="167.24" y="330" width="2.94" height="2.74" fill="#64ff00"/><rect x="170.18" y="330" width="2.94" height="2.74" fill="#0a32ff"/><rect x="173.11" y="330" width="2.94" height="2.74" fill="#0a32ff"/><rect x="176.05" y="330" width="2.94" height="2.74" fill="#0a32ff"/><rect x="178.99" y="330" width="2.94" height="2.74" fill="#000000"/><rect x="131.98" y="327.25" width="2.94" height="2.74" fill="#0a32ff"/><rect x="134.92" y="327.25" width="2.94" height="2.74" fill="#0a32ff"/><rect x="137.86" y="327.25" width="2.94" height="2.74" fill="#0a32ff"/><rect x="140.8" y="327.25" width="2.94" height="2.74" fill="#64ff00"/><rect x="143.73" y="327.25" width="2.94" height="2.74" fill="#64ff00"/><rect x="146.67" y="327.25" width="2.94" height="2.74" fill="#64ff00"/><rect x="149.61" y="327.25" width="2.94" height="2.74" fill="#64ff00"/><rect x="152.55" y="327.25" width="2.94" height="2.74" fill="#ff1a00"/><rect x="155.49" y="327.25" width="2.94" height="2.74" fill="#ff1a00"/><rect x="158.42" y="327.25" width="2.94" height="2.74" fill="#64ff00"/><rect x="161.36" y="327.25" width="2.94" height="2.74" fill="#64ff00"/><rect x="164.3" y="327.25" width="2.94" height="2.74" fill="#64ff00"/><rect x="167.24" y="327.25" width="2.94" height="2.74" fill="#64ff00"/><rect x="170.18" y="327.25" width="2.94" height="2.74" fill="#0a32ff"/><rect x="176.05" y="327.25" width="2.94" height="2.74" fill="#000000"/><rect x="178.99" y="327.25" width="2.94" height="2.74" fill="#000000"/><rect x="134.92" y="324.51" width="2.94" height="2.74" fill="#0a32ff"/><rect x="137.86" y="324.51" width="2.94" height="2.74" fill="#0a32ff"/><rect x="140.8" y="324.51" width="2.94" height="2.74" fill="#64ff00"/><rect x="143.73" y="324.51" width="2.94" height="2.74" fill="#64ff00"/><rect x="146.67" y="324.51" width="2.94" height="2.74" fill="#64ff00"/><rect x="149.61" y="324.51" width="2.94" height="2.74" fill="#64ff00"/><rect x="152.55" y="324.51" width="2.94" height="2.74" fill="#ff8c00"/><rect x="155.49" y="324.51" width="2.94" height="2.74" fill="#64ff00"/><rect x="158.42" y="324.51" width="2.94" height="2.74" fill="#ff1a00"/><rect x="161.36" y="324.51" width="2.94" height="2.74" fill="#ffff00"/><rect x="164.3" y="324.51" width="2.94" height="2.74" fill="#ffff00"/><rect x="167.24" y="324.51" width="2.94" height="2.74" fill="#64ff00"/><rect x="170.18" y="324.51" width="2.94" height="2.74" fill="#0a32ff"/><rect x="173.11" y="324.51" width="2.94" height="2.74" fill="#000000"/><rect x="176.05" y="324.51" width="2.94" height="2.74" fill="#000000"/><rect x="134.92" y="321.76" width="2.94" height="2.74" fill="#0a32ff"/><rect x="137.86" y="321.76" width="2.94" height="2.74" fill="#000000"/><rect x="140.8" y="321.76" width="2.94" height="2.74" fill="#4ad6ff"/><rect x="143.73" y="321.76" width="2.94" height="2.74" fill="#64ff00"/><rect x="146.67" y="321.76" width="2.94" height="2.74" fill="#64ff00"/><rect x="149.61" y="321.76" width="2.94" height="2.74" fill="#64ff00"/><rect x="152.55" y="321.76" width="2.94" height="2.74" fill="#b4ff00"/><rect x="155.49" y="321.76" width="2.94" height="2.74" fill="#64ff00"/><rect x="158.42" y="321.76" width="2.94" height="2.74" fill="#b4ff00"/><rect x="161.36" y="321.76" width="2.94" height="2.74" fill="#ff8c00"/><rect x="164.3" y="321.76" width="2.94" height="2.74" fill="#ff8c00"/><rect x="167.24" y="321.76" width="2.94" height="2.74" fill="#64ff00"/><rect x="170.18" y="321.76" width="2.94" height="2.74" fill="#0a32ff"/><rect x="173.11" y="321.76" width="2.94" height="2.74" fill="#0000b4"/><rect x="176.05" y="321.76" width="2.94" height="2.74" fill="#0a32ff"/><rect x="178.99" y="321.76" width="2.94" height="2.74" fill="#0000b4"/><rect x="137.86" y="319.02" width="2.94" height="2.74" fill="#000000"/><rect x="140.8" y="319.02" width="2.94" height="2.74" fill="#4ad6ff"/><rect x="143.73" y="319.02" width="2.94" height="2.74" fill="#64ff00"/><rect x="146.67" y="319.02" width="2.94" height="2.74" fill="#64ff00"/><rect x="149.61" y="319.02" width="2.94" height="2.74" fill="#64ff00"/><rect x="152.55" y="319.02" width="2.94" height="2.74" fill="#64ff00"/><rect x="155.49" y="319.02" width="2.94" height="2.74" fill="#4ad6ff"/><rect x="158.42" y="319.02" width="2.94" height="2.74" fill="#64ff00"/><rect x="161.36" y="319.02" width="2.94" height="2.74" fill="#4ad6ff"/><rect x="164.3" y="319.02" width="2.94" height="2.74" fill="#ff1a00"/><rect x="167.24" y="319.02" width="2.94" height="2.74" fill="#ff8c00"/><rect x="170.18" y="319.02" width="2.94" height="2.74" fill="#64ff00"/><rect x="173.11" y="319.02" width="2.94" height="2.74" fill="#0a32ff"/><rect x="176.05" y="319.02" width="2.94" height="2.74" fill="#0000b4"/><rect x="178.99" y="319.02" width="2.94" height="2.74" fill="#000000"/><rect x="134.92" y="316.27" width="2.94" height="2.74" fill="#000000"/><rect x="137.86" y="316.27" width="2.94" height="2.74" fill="#000000"/><rect x="140.8" y="316.27" width="2.94" height="2.74" fill="#0a32ff"/><rect x="143.73" y="316.27" width="2.94" height="2.74" fill="#64ff00"/><rect x="146.67" y="316.27" width="2.94" height="2.74" fill="#64ff00"/><rect x="149.61" y="316.27" width="2.94" height="2.74" fill="#64ff00"/><rect x="152.55" y="316.27" width="2.94" height="2.74" fill="#64ff00"/><rect x="155.49" y="316.27" width="2.94" height="2.74" fill="#4ad6ff"/><rect x="158.42" y="316.27" width="2.94" height="2.74" fill="#64ff00"/><rect x="161.36" y="316.27" width="2.94" height="2.74" fill="#64ff00"/><rect x="164.3" y="316.27" width="2.94" height="2.74" fill="#ff8c00"/><rect x="167.24" y="316.27" width="2.94" height="2.74" fill="#ff8c00"/><rect x="170.18" y="316.27" width="2.94" height="2.74" fill="#ffff00"/><rect x="173.11" y="316.27" width="2.94" height="2.74" fill="#4ad6ff"/><rect x="176.05" y="316.27" width="2.94" height="2.74" fill="#4ad6ff"/><rect x="178.99" y="316.27" width="2.94" height="2.74" fill="#0a32ff"/><rect x="140.8" y="313.53" width="2.94" height="2.74" fill="#0a32ff"/><rect x="143.73" y="313.53" width="2.94" height="2.74" fill="#4ad6ff"/><rect x="146.67" y="313.53" width="2.94" height="2.74" fill="#64ff00"/><rect x="149.61" y="313.53" width="2.94" height="2.74" fill="#64ff00"/><rect x="152.55" y="313.53" width="2.94" height="2.74" fill="#4ad6ff"/><rect x="155.49" y="313.53" width="2.94" height="2.74" fill="#4ad6ff"/><rect x="158.42" y="313.53" width="2.94" height="2.74" fill="#4ad6ff"/><rect x="161.36" y="313.53" width="2.94" height="2.74" fill="#0a32ff"/><rect x="164.3" y="313.53" width="2.94" height="2.74" fill="#64ff00"/><rect x="167.24" y="313.53" width="2.94" height="2.74" fill="#ff8c00"/><rect x="170.18" y="313.53" width="2.94" height="2.74" fill="#ffff00"/><rect x="173.11" y="313.53" width="2.94" height="2.74" fill="#64ff00"/><rect x="176.05" y="313.53" width="2.94" height="2.74" fill="#64ff00"/><rect x="178.99" y="313.53" width="2.94" height="2.74" fill="#4ad6ff"/><rect x="181.93" y="313.53" width="2.94" height="2.74" fill="#0a32ff"/><rect x="126.11" y="310.79" width="2.94" height="2.74" fill="#000000"/><rect x="140.8" y="310.79" width="2.94" height="2.74" fill="#000000"/><rect x="143.73" y="310.79" width="2.94" height="2.74" fill="#0a32ff"/><rect x="146.67" y="310.79" width="2.94" height="2.74" fill="#0a32ff"/><rect x="149.61" y="310.79" width="2.94" height="2.74" fill="#0a32ff"/><rect x="152.55" y="310.79" width="2.94" height="2.74" fill="#4ad6ff"/><rect x="155.49" y="310.79" width="2.94" height="2.74" fill="#0a32ff"/><rect x="158.42" y="310.79" width="2.94" height="2.74" fill="#0a32ff"/><rect x="161.36" y="310.79" width="2.94" height="2.74" fill="#0a32ff"/><rect x="164.3" y="310.79" width="2.94" height="2.74" fill="#4ad6ff"/><rect x="167.24" y="310.79" width="2.94" height="2.74" fill="#64ff00"/><rect x="170.18" y="310.79" width="2.94" height="2.74" fill="#64ff00"/><rect x="173.11" y="310.79" width="2.94" height="2.74" fill="#ffff00"/><rect x="176.05" y="310.79" width="2.94" height="2.74" fill="#ff1a00"/><rect x="178.99" y="310.79" width="2.94" height="2.74" fill="#ffff00"/><rect x="181.93" y="310.79" width="2.94" height="2.74" fill="#64ff00"/><rect x="184.87" y="310.79" width="2.94" height="2.74" fill="#0a32ff"/><rect x="187.8" y="310.79" width="2.94" height="2.74" fill="#000000"/><rect x="140.8" y="308.04" width="2.94" height="2.74" fill="#0a32ff"/><rect x="143.73" y="308.04" width="2.94" height="2.74" fill="#0a32ff"/><rect x="146.67" y="308.04" width="2.94" height="2.74" fill="#000000"/><rect x="149.61" y="308.04" width="2.94" height="2.74" fill="#000000"/><rect x="152.55" y="308.04" width="2.94" height="2.74" fill="#0a32ff"/><rect x="155.49" y="308.04" width="2.94" height="2.74" fill="#000000"/><rect x="158.42" y="308.04" width="2.94" height="2.74" fill="#000000"/><rect x="161.36" y="308.04" width="2.94" height="2.74" fill="#0a32ff"/><rect x="164.3" y="308.04" width="2.94" height="2.74" fill="#0a32ff"/><rect x="167.24" y="308.04" width="2.94" height="2.74" fill="#4ad6ff"/><rect x="170.18" y="308.04" width="2.94" height="2.74" fill="#4ad6ff"/><rect x="173.11" y="308.04" width="2.94" height="2.74" fill="#64ff00"/><rect x="176.05" y="308.04" width="2.94" height="2.74" fill="#ff8c00"/><rect x="178.99" y="308.04" width="2.94" height="2.74" fill="#ffff00"/><rect x="181.93" y="308.04" width="2.94" height="2.74" fill="#64ff00"/><rect x="184.87" y="308.04" width="2.94" height="2.74" fill="#4ad6ff"/><rect x="187.8" y="308.04" width="2.94" height="2.74" fill="#0000b4"/><rect x="126.11" y="305.3" width="2.94" height="2.74" fill="#0a32ff"/><rect x="131.98" y="305.3" width="2.94" height="2.74" fill="#0000b4"/><rect x="134.92" y="305.3" width="2.94" height="2.74" fill="#000000"/><rect x="140.8" y="305.3" width="2.94" height="2.74" fill="#000000"/><rect x="143.73" y="305.3" width="2.94" height="2.74" fill="#000000"/><rect x="146.67" y="305.3" width="2.94" height="2.74" fill="#000000"/><rect x="149.61" y="305.3" width="2.94" height="2.74" fill="#000000"/><rect x="152.55" y="305.3" width="2.94" height="2.74" fill="#000000"/><rect x="161.36" y="305.3" width="2.94" height="2.74" fill="#0a32ff"/><rect x="164.3" y="305.3" width="2.94" height="2.74" fill="#0a32ff"/><rect x="167.24" y="305.3" width="2.94" height="2.74" fill="#0a32ff"/><rect x="170.18" y="305.3" width="2.94" height="2.74" fill="#0a32ff"/><rect x="173.11" y="305.3" width="2.94" height="2.74" fill="#64ff00"/><rect x="176.05" y="305.3" width="2.94" height="2.74" fill="#ffff00"/><rect x="178.99" y="305.3" width="2.94" height="2.74" fill="#ff8c00"/><rect x="181.93" y="305.3" width="2.94" height="2.74" fill="#64ff00"/><rect x="184.87" y="305.3" width="2.94" height="2.74" fill="#64ff00"/><rect x="187.8" y="305.3" width="2.94" height="2.74" fill="#0a32ff"/><rect x="190.74" y="305.3" width="2.94" height="2.74" fill="#000000"/><rect x="126.11" y="302.55" width="2.94" height="2.74" fill="#000000"/><rect x="129.04" y="302.55" width="2.94" height="2.74" fill="#000000"/><rect x="131.98" y="302.55" width="2.94" height="2.74" fill="#0a32ff"/><rect x="134.92" y="302.55" width="2.94" height="2.74" fill="#000000"/><rect x="143.73" y="302.55" width="2.94" height="2.74" fill="#0a32ff"/><rect x="152.55" y="302.55" width="2.94" height="2.74" fill="#0a32ff"/><rect x="161.36" y="302.55" width="2.94" height="2.74" fill="#0a32ff"/><rect x="164.3" y="302.55" width="2.94" height="2.74" fill="#0a32ff"/><rect x="167.24" y="302.55" width="2.94" height="2.74" fill="#0000b4"/><rect x="170.18" y="302.55" width="2.94" height="2.74" fill="#0a32ff"/><rect x="173.11" y="302.55" width="2.94" height="2.74" fill="#0a32ff"/><rect x="176.05" y="302.55" width="2.94" height="2.74" fill="#64ff00"/><rect x="178.99" y="302.55" width="2.94" height="2.74" fill="#ffff00"/><rect x="181.93" y="302.55" width="2.94" height="2.74" fill="#64ff00"/><rect x="184.87" y="302.55" width="2.94" height="2.74" fill="#64ff00"/><rect x="187.8" y="302.55" width="2.94" height="2.74" fill="#64ff00"/><rect x="190.74" y="302.55" width="2.94" height="2.74" fill="#4ad6ff"/><rect x="193.68" y="302.55" width="2.94" height="2.74" fill="#0a32ff"/><rect x="199.56" y="302.55" width="2.94" height="2.74" fill="#000000"/><rect x="129.04" y="299.81" width="2.94" height="2.74" fill="#000000"/><rect x="131.98" y="299.81" width="2.94" height="2.74" fill="#0a32ff"/><rect x="134.92" y="299.81" width="2.94" height="2.74" fill="#000000"/><rect x="140.8" y="299.81" width="2.94" height="2.74" fill="#0a32ff"/><rect x="143.73" y="299.81" width="2.94" height="2.74" fill="#0a32ff"/><rect x="152.55" y="299.81" width="2.94" height="2.74" fill="#0a32ff"/><rect x="161.36" y="299.81" width="2.94" height="2.74" fill="#0a32ff"/><rect x="164.3" y="299.81" width="2.94" height="2.74" fill="#0a32ff"/><rect x="167.24" y="299.81" width="2.94" height="2.74" fill="#0000b4"/><rect x="170.18" y="299.81" width="2.94" height="2.74" fill="#000000"/><rect x="173.11" y="299.81" width="2.94" height="2.74" fill="#0a32ff"/><rect x="176.05" y="299.81" width="2.94" height="2.74" fill="#64ff00"/><rect x="178.99" y="299.81" width="2.94" height="2.74" fill="#64ff00"/><rect x="181.93" y="299.81" width="2.94" height="2.74" fill="#64ff00"/><rect x="184.87" y="299.81" width="2.94" height="2.74" fill="#64ff00"/><rect x="187.8" y="299.81" width="2.94" height="2.74" fill="#64ff00"/><rect x="190.74" y="299.81" width="2.94" height="2.74" fill="#4ad6ff"/><rect x="193.68" y="299.81" width="2.94" height="2.74" fill="#0a32ff"/><rect x="205.43" y="299.81" width="2.94" height="2.74" fill="#000000"/><rect x="126.11" y="297.06" width="2.94" height="2.74" fill="#000000"/><rect x="129.04" y="297.06" width="2.94" height="2.74" fill="#000000"/><rect x="140.8" y="297.06" width="2.94" height="2.74" fill="#0a32ff"/><rect x="143.73" y="297.06" width="2.94" height="2.74" fill="#0a32ff"/><rect x="146.67" y="297.06" width="2.94" height="2.74" fill="#000000"/><rect x="152.55" y="297.06" width="2.94" height="2.74" fill="#000000"/><rect x="161.36" y="297.06" width="2.94" height="2.74" fill="#000000"/><rect x="164.3" y="297.06" width="2.94" height="2.74" fill="#000000"/><rect x="167.24" y="297.06" width="2.94" height="2.74" fill="#000000"/><rect x="170.18" y="297.06" width="2.94" height="2.74" fill="#000000"/><rect x="176.05" y="297.06" width="2.94" height="2.74" fill="#0a32ff"/><rect x="178.99" y="297.06" width="2.94" height="2.74" fill="#4ad6ff"/><rect x="181.93" y="297.06" width="2.94" height="2.74" fill="#64ff00"/><rect x="184.87" y="297.06" width="2.94" height="2.74" fill="#64ff00"/><rect x="187.8" y="297.06" width="2.94" height="2.74" fill="#64ff00"/><rect x="190.74" y="297.06" width="2.94" height="2.74" fill="#ffff00"/><rect x="193.68" y="297.06" width="2.94" height="2.74" fill="#4ad6ff"/><rect x="196.62" y="297.06" width="2.94" height="2.74" fill="#0a32ff"/><rect x="199.56" y="297.06" width="2.94" height="2.74" fill="#0a32ff"/><rect x="208.37" y="297.06" width="2.94" height="2.74" fill="#000000"/><rect x="126.11" y="294.32" width="2.94" height="2.74" fill="#000000"/><rect x="131.98" y="294.32" width="2.94" height="2.74" fill="#000000"/><rect x="137.86" y="294.32" width="2.94" height="2.74" fill="#000000"/><rect x="140.8" y="294.32" width="2.94" height="2.74" fill="#000000"/><rect x="173.11" y="294.32" width="2.94" height="2.74" fill="#000000"/><rect x="176.05" y="294.32" width="2.94" height="2.74" fill="#0000b4"/><rect x="178.99" y="294.32" width="2.94" height="2.74" fill="#0a32ff"/><rect x="181.93" y="294.32" width="2.94" height="2.74" fill="#0a32ff"/><rect x="184.87" y="294.32" width="2.94" height="2.74" fill="#4ad6ff"/><rect x="187.8" y="294.32" width="2.94" height="2.74" fill="#64ff00"/><rect x="190.74" y="294.32" width="2.94" height="2.74" fill="#64ff00"/><rect x="193.68" y="294.32" width="2.94" height="2.74" fill="#64ff00"/><rect x="196.62" y="294.32" width="2.94" height="2.74" fill="#64ff00"/><rect x="199.56" y="294.32" width="2.94" height="2.74" fill="#4ad6ff"/><rect x="202.49" y="294.32" width="2.94" height="2.74" fill="#4ad6ff"/><rect x="205.43" y="294.32" width="2.94" height="2.74" fill="#0a32ff"/><rect x="208.37" y="294.32" width="2.94" height="2.74" fill="#0a32ff"/><rect x="126.11" y="291.57" width="2.94" height="2.74" fill="#000000"/><rect x="131.98" y="291.57" width="2.94" height="2.74" fill="#0a32ff"/><rect x="140.8" y="291.57" width="2.94" height="2.74" fill="#0a32ff"/><rect x="176.05" y="291.57" width="2.94" height="2.74" fill="#000000"/><rect x="181.93" y="291.57" width="2.94" height="2.74" fill="#0000b4"/><rect x="184.87" y="291.57" width="2.94" height="2.74" fill="#0a32ff"/><rect x="187.8" y="291.57" width="2.94" height="2.74" fill="#64ff00"/><rect x="190.74" y="291.57" width="2.94" height="2.74" fill="#64ff00"/><rect x="193.68" y="291.57" width="2.94" height="2.74" fill="#64ff00"/><rect x="196.62" y="291.57" width="2.94" height="2.74" fill="#64ff00"/><rect x="199.56" y="291.57" width="2.94" height="2.74" fill="#4ad6ff"/><rect x="202.49" y="291.57" width="2.94" height="2.74" fill="#4ad6ff"/><rect x="205.43" y="291.57" width="2.94" height="2.74" fill="#0a32ff"/><rect x="208.37" y="291.57" width="2.94" height="2.74" fill="#0a32ff"/><rect x="120.23" y="288.83" width="2.94" height="2.74" fill="#000000"/><rect x="126.11" y="288.83" width="2.94" height="2.74" fill="#0a32ff"/><rect x="187.8" y="288.83" width="2.94" height="2.74" fill="#0a32ff"/><rect x="190.74" y="288.83" width="2.94" height="2.74" fill="#4ad6ff"/><rect x="193.68" y="288.83" width="2.94" height="2.74" fill="#4ad6ff"/><rect x="196.62" y="288.83" width="2.94" height="2.74" fill="#64ff00"/><rect x="199.56" y="288.83" width="2.94" height="2.74" fill="#64ff00"/><rect x="202.49" y="288.83" width="2.94" height="2.74" fill="#64ff00"/><rect x="205.43" y="288.83" width="2.94" height="2.74" fill="#b4ff00"/><rect x="208.37" y="288.83" width="2.94" height="2.74" fill="#0a32ff"/><rect x="211.31" y="288.83" width="2.94" height="2.74" fill="#000000"/><rect x="123.17" y="286.08" width="2.94" height="2.74" fill="#000000"/><rect x="126.11" y="286.08" width="2.94" height="2.74" fill="#000000"/><rect x="167.24" y="286.08" width="2.94" height="2.74" fill="#000000"/><rect x="187.8" y="286.08" width="2.94" height="2.74" fill="#0a32ff"/><rect x="190.74" y="286.08" width="2.94" height="2.74" fill="#4ad6ff"/><rect x="193.68" y="286.08" width="2.94" height="2.74" fill="#4ad6ff"/><rect x="196.62" y="286.08" width="2.94" height="2.74" fill="#64ff00"/><rect x="199.56" y="286.08" width="2.94" height="2.74" fill="#64ff00"/><rect x="202.49" y="286.08" width="2.94" height="2.74" fill="#ff8c00"/><rect x="205.43" y="286.08" width="2.94" height="2.74" fill="#ffff00"/><rect x="208.37" y="286.08" width="2.94" height="2.74" fill="#64ff00"/><rect x="211.31" y="286.08" width="2.94" height="2.74" fill="#0a32ff"/><rect x="117.29" y="283.34" width="2.94" height="2.74" fill="#000000"/><rect x="129.04" y="283.34" width="2.94" height="2.74" fill="#000000"/><rect x="167.24" y="283.34" width="2.94" height="2.74" fill="#000000"/><rect x="190.74" y="283.34" width="2.94" height="2.74" fill="#0a32ff"/><rect x="193.68" y="283.34" width="2.94" height="2.74" fill="#4ad6ff"/><rect x="196.62" y="283.34" width="2.94" height="2.74" fill="#4ad6ff"/><rect x="199.56" y="283.34" width="2.94" height="2.74" fill="#64ff00"/><rect x="202.49" y="283.34" width="2.94" height="2.74" fill="#ffff00"/><rect x="205.43" y="283.34" width="2.94" height="2.74" fill="#ff1a00"/><rect x="208.37" y="283.34" width="2.94" height="2.74" fill="#ffff00"/><rect x="211.31" y="283.34" width="2.94" height="2.74" fill="#4ad6ff"/><rect x="214.25" y="283.34" width="2.94" height="2.74" fill="#000000"/><rect x="93.79" y="280.59" width="2.94" height="2.74" fill="#000000"/><rect x="126.11" y="280.59" width="2.94" height="2.74" fill="#000000"/><rect x="190.74" y="280.59" width="2.94" height="2.74" fill="#0a32ff"/><rect x="193.68" y="280.59" width="2.94" height="2.74" fill="#0a32ff"/><rect x="196.62" y="280.59" width="2.94" height="2.74" fill="#0a32ff"/><rect x="199.56" y="280.59" width="2.94" height="2.74" fill="#4ad6ff"/><rect x="202.49" y="280.59" width="2.94" height="2.74" fill="#64ff00"/><rect x="205.43" y="280.59" width="2.94" height="2.74" fill="#ff8c00"/><rect x="208.37" y="280.59" width="2.94" height="2.74" fill="#ff1a00"/><rect x="211.31" y="280.59" width="2.94" height="2.74" fill="#ffff00"/><rect x="214.25" y="280.59" width="2.94" height="2.74" fill="#0a32ff"/><rect x="111.42" y="277.85" width="2.94" height="2.74" fill="#000000"/><rect x="178.99" y="277.85" width="2.94" height="2.74" fill="#000000"/><rect x="187.8" y="277.85" width="2.94" height="2.74" fill="#000000"/><rect x="190.74" y="277.85" width="2.94" height="2.74" fill="#000000"/><rect x="193.68" y="277.85" width="2.94" height="2.74" fill="#0a32ff"/><rect x="196.62" y="277.85" width="2.94" height="2.74" fill="#000000"/><rect x="199.56" y="277.85" width="2.94" height="2.74" fill="#0a32ff"/><rect x="202.49" y="277.85" width="2.94" height="2.74" fill="#64ff00"/><rect x="205.43" y="277.85" width="2.94" height="2.74" fill="#ff8c00"/><rect x="208.37" y="277.85" width="2.94" height="2.74" fill="#ffff00"/><rect x="211.31" y="277.85" width="2.94" height="2.74" fill="#64ff00"/><rect x="214.25" y="277.85" width="2.94" height="2.74" fill="#64ff00"/><rect x="217.18" y="277.85" width="2.94" height="2.74" fill="#0a32ff"/><rect x="220.12" y="277.85" width="2.94" height="2.74" fill="#0000b4"/><rect x="223.06" y="277.85" width="2.94" height="2.74" fill="#000000"/><rect x="226" y="277.85" width="2.94" height="2.74" fill="#000000"/><rect x="102.6" y="275.11" width="2.94" height="2.74" fill="#000000"/><rect x="105.54" y="275.11" width="2.94" height="2.74" fill="#000000"/><rect x="152.55" y="275.11" width="2.94" height="2.74" fill="#000000"/><rect x="199.56" y="275.11" width="2.94" height="2.74" fill="#000000"/><rect x="202.49" y="275.11" width="2.94" height="2.74" fill="#0a32ff"/><rect x="205.43" y="275.11" width="2.94" height="2.74" fill="#64ff00"/><rect x="208.37" y="275.11" width="2.94" height="2.74" fill="#64ff00"/><rect x="211.31" y="275.11" width="2.94" height="2.74" fill="#b4ff00"/><rect x="214.25" y="275.11" width="2.94" height="2.74" fill="#64ff00"/><rect x="217.18" y="275.11" width="2.94" height="2.74" fill="#64ff00"/><rect x="220.12" y="275.11" width="2.94" height="2.74" fill="#0a32ff"/><rect x="223.06" y="275.11" width="2.94" height="2.74" fill="#000000"/><rect x="226" y="275.11" width="2.94" height="2.74" fill="#000000"/><rect x="87.91" y="272.36" width="2.94" height="2.74" fill="#000000"/><rect x="190.74" y="272.36" width="2.94" height="2.74" fill="#000000"/><rect x="202.49" y="272.36" width="2.94" height="2.74" fill="#0a32ff"/><rect x="205.43" y="272.36" width="2.94" height="2.74" fill="#0a32ff"/><rect x="208.37" y="272.36" width="2.94" height="2.74" fill="#64ff00"/><rect x="211.31" y="272.36" width="2.94" height="2.74" fill="#64ff00"/><rect x="214.25" y="272.36" width="2.94" height="2.74" fill="#64ff00"/><rect x="217.18" y="272.36" width="2.94" height="2.74" fill="#64ff00"/><rect x="220.12" y="272.36" width="2.94" height="2.74" fill="#64ff00"/><rect x="223.06" y="272.36" width="2.94" height="2.74" fill="#0a32ff"/><rect x="226" y="272.36" width="2.94" height="2.74" fill="#0000b4"/><rect x="79.1" y="269.62" width="2.94" height="2.74" fill="#000000"/><rect x="82.03" y="269.62" width="2.94" height="2.74" fill="#000000"/><rect x="96.72" y="269.62" width="2.94" height="2.74" fill="#000000"/><rect x="111.42" y="269.62" width="2.94" height="2.74" fill="#000000"/><rect x="120.23" y="269.62" width="2.94" height="2.74" fill="#000000"/><rect x="202.49" y="269.62" width="2.94" height="2.74" fill="#000000"/><rect x="208.37" y="269.62" width="2.94" height="2.74" fill="#0a32ff"/><rect x="211.31" y="269.62" width="2.94" height="2.74" fill="#4ad6ff"/><rect x="214.25" y="269.62" width="2.94" height="2.74" fill="#64ff00"/><rect x="217.18" y="269.62" width="2.94" height="2.74" fill="#64ff00"/><rect x="220.12" y="269.62" width="2.94" height="2.74" fill="#64ff00"/><rect x="223.06" y="269.62" width="2.94" height="2.74" fill="#64ff00"/><rect x="226" y="269.62" width="2.94" height="2.74" fill="#64ff00"/><rect x="228.94" y="269.62" width="2.94" height="2.74" fill="#0a32ff"/><rect x="231.87" y="269.62" width="2.94" height="2.74" fill="#000000"/><rect x="82.03" y="266.87" width="2.94" height="2.74" fill="#000000"/><rect x="90.85" y="266.87" width="2.94" height="2.74" fill="#000000"/><rect x="205.43" y="266.87" width="2.94" height="2.74" fill="#000000"/><rect x="208.37" y="266.87" width="2.94" height="2.74" fill="#0a32ff"/><rect x="211.31" y="266.87" width="2.94" height="2.74" fill="#0a32ff"/><rect x="214.25" y="266.87" width="2.94" height="2.74" fill="#4ad6ff"/><rect x="217.18" y="266.87" width="2.94" height="2.74" fill="#64ff00"/><rect x="220.12" y="266.87" width="2.94" height="2.74" fill="#64ff00"/><rect x="223.06" y="266.87" width="2.94" height="2.74" fill="#64ff00"/><rect x="226" y="266.87" width="2.94" height="2.74" fill="#64ff00"/><rect x="228.94" y="266.87" width="2.94" height="2.74" fill="#0a32ff"/><rect x="231.87" y="266.87" width="2.94" height="2.74" fill="#000000"/><rect x="82.03" y="264.13" width="2.94" height="2.74" fill="#0a32ff"/><rect x="102.6" y="264.13" width="2.94" height="2.74" fill="#000000"/><rect x="111.42" y="264.13" width="2.94" height="2.74" fill="#000000"/><rect x="208.37" y="264.13" width="2.94" height="2.74" fill="#0a32ff"/><rect x="211.31" y="264.13" width="2.94" height="2.74" fill="#0a32ff"/><rect x="214.25" y="264.13" width="2.94" height="2.74" fill="#0a32ff"/><rect x="217.18" y="264.13" width="2.94" height="2.74" fill="#0a32ff"/><rect x="220.12" y="264.13" width="2.94" height="2.74" fill="#4ad6ff"/><rect x="223.06" y="264.13" width="2.94" height="2.74" fill="#64ff00"/><rect x="226" y="264.13" width="2.94" height="2.74" fill="#64ff00"/><rect x="228.94" y="264.13" width="2.94" height="2.74" fill="#64ff00"/><rect x="231.87" y="264.13" width="2.94" height="2.74" fill="#0a32ff"/><rect x="234.81" y="264.13" width="2.94" height="2.74" fill="#000000"/><rect x="76.16" y="261.38" width="2.94" height="2.74" fill="#000000"/><rect x="84.97" y="261.38" width="2.94" height="2.74" fill="#000000"/><rect x="90.85" y="261.38" width="2.94" height="2.74" fill="#000000"/><rect x="96.72" y="261.38" width="2.94" height="2.74" fill="#000000"/><rect x="102.6" y="261.38" width="2.94" height="2.74" fill="#000000"/><rect x="108.48" y="261.38" width="2.94" height="2.74" fill="#000000"/><rect x="114.35" y="261.38" width="2.94" height="2.74" fill="#0a32ff"/><rect x="140.8" y="261.38" width="2.94" height="2.74" fill="#000000"/><rect x="211.31" y="261.38" width="2.94" height="2.74" fill="#000000"/><rect x="214.25" y="261.38" width="2.94" height="2.74" fill="#0000b4"/><rect x="217.18" y="261.38" width="2.94" height="2.74" fill="#000000"/><rect x="220.12" y="261.38" width="2.94" height="2.74" fill="#0a32ff"/><rect x="223.06" y="261.38" width="2.94" height="2.74" fill="#4ad6ff"/><rect x="226" y="261.38" width="2.94" height="2.74" fill="#64ff00"/><rect x="228.94" y="261.38" width="2.94" height="2.74" fill="#64ff00"/><rect x="231.87" y="261.38" width="2.94" height="2.74" fill="#64ff00"/><rect x="234.81" y="261.38" width="2.94" height="2.74" fill="#000000"/><rect x="79.1" y="258.64" width="2.94" height="2.74" fill="#000000"/><rect x="82.03" y="258.64" width="2.94" height="2.74" fill="#000000"/><rect x="84.97" y="258.64" width="2.94" height="2.74" fill="#0a32ff"/><rect x="99.66" y="258.64" width="2.94" height="2.74" fill="#000000"/><rect x="111.42" y="258.64" width="2.94" height="2.74" fill="#000000"/><rect x="220.12" y="258.64" width="2.94" height="2.74" fill="#0000b4"/><rect x="223.06" y="258.64" width="2.94" height="2.74" fill="#0a32ff"/><rect x="226" y="258.64" width="2.94" height="2.74" fill="#64ff00"/><rect x="228.94" y="258.64" width="2.94" height="2.74" fill="#64ff00"/><rect x="231.87" y="258.64" width="2.94" height="2.74" fill="#64ff00"/><rect x="234.81" y="258.64" width="2.94" height="2.74" fill="#0a32ff"/><rect x="243.62" y="258.64" width="2.94" height="2.74" fill="#0000b4"/><rect x="84.97" y="255.89" width="2.94" height="2.74" fill="#0a32ff"/><rect x="90.85" y="255.89" width="2.94" height="2.74" fill="#000000"/><rect x="93.79" y="255.89" width="2.94" height="2.74" fill="#0a32ff"/><rect x="96.72" y="255.89" width="2.94" height="2.74" fill="#000000"/><rect x="99.66" y="255.89" width="2.94" height="2.74" fill="#000000"/><rect x="105.54" y="255.89" width="2.94" height="2.74" fill="#000000"/><rect x="108.48" y="255.89" width="2.94" height="2.74" fill="#000000"/><rect x="111.42" y="255.89" width="2.94" height="2.74" fill="#000000"/><rect x="117.29" y="255.89" width="2.94" height="2.74" fill="#000000"/><rect x="126.11" y="255.89" width="2.94" height="2.74" fill="#000000"/><rect x="223.06" y="255.89" width="2.94" height="2.74" fill="#0a32ff"/><rect x="226" y="255.89" width="2.94" height="2.74" fill="#4ad6ff"/><rect x="228.94" y="255.89" width="2.94" height="2.74" fill="#64ff00"/><rect x="231.87" y="255.89" width="2.94" height="2.74" fill="#64ff00"/><rect x="234.81" y="255.89" width="2.94" height="2.74" fill="#64ff00"/><rect x="237.75" y="255.89" width="2.94" height="2.74" fill="#0a32ff"/><rect x="243.62" y="255.89" width="2.94" height="2.74" fill="#0000b4"/><rect x="61.47" y="253.15" width="2.94" height="2.74" fill="#000000"/><rect x="79.1" y="253.15" width="2.94" height="2.74" fill="#0a32ff"/><rect x="87.91" y="253.15" width="2.94" height="2.74" fill="#000000"/><rect x="90.85" y="253.15" width="2.94" height="2.74" fill="#000000"/><rect x="93.79" y="253.15" width="2.94" height="2.74" fill="#000000"/><rect x="96.72" y="253.15" width="2.94" height="2.74" fill="#000000"/><rect x="102.6" y="253.15" width="2.94" height="2.74" fill="#0a32ff"/><rect x="205.43" y="253.15" width="2.94" height="2.74" fill="#000000"/><rect x="220.12" y="253.15" width="2.94" height="2.74" fill="#000000"/><rect x="223.06" y="253.15" width="2.94" height="2.74" fill="#0a32ff"/><rect x="226" y="253.15" width="2.94" height="2.74" fill="#0a32ff"/><rect x="228.94" y="253.15" width="2.94" height="2.74" fill="#0a32ff"/><rect x="231.87" y="253.15" width="2.94" height="2.74" fill="#64ff00"/><rect x="234.81" y="253.15" width="2.94" height="2.74" fill="#64ff00"/><rect x="237.75" y="253.15" width="2.94" height="2.74" fill="#64ff00"/><rect x="240.69" y="253.15" width="2.94" height="2.74" fill="#64ff00"/><rect x="243.62" y="253.15" width="2.94" height="2.74" fill="#4ad6ff"/><rect x="246.56" y="253.15" width="2.94" height="2.74" fill="#0a32ff"/><rect x="249.5" y="253.15" width="2.94" height="2.74" fill="#000000"/><rect x="264.19" y="253.15" width="2.94" height="2.74" fill="#000000"/><rect x="82.03" y="250.4" width="2.94" height="2.74" fill="#000000"/><rect x="96.72" y="250.4" width="2.94" height="2.74" fill="#000000"/><rect x="99.66" y="250.4" width="2.94" height="2.74" fill="#000000"/><rect x="105.54" y="250.4" width="2.94" height="2.74" fill="#000000"/><rect x="143.73" y="250.4" width="2.94" height="2.74" fill="#000000"/><rect x="226" y="250.4" width="2.94" height="2.74" fill="#000000"/><rect x="228.94" y="250.4" width="2.94" height="2.74" fill="#0a32ff"/><rect x="231.87" y="250.4" width="2.94" height="2.74" fill="#0a32ff"/><rect x="234.81" y="250.4" width="2.94" height="2.74" fill="#4ad6ff"/><rect x="237.75" y="250.4" width="2.94" height="2.74" fill="#64ff00"/><rect x="240.69" y="250.4" width="2.94" height="2.74" fill="#64ff00"/><rect x="243.62" y="250.4" width="2.94" height="2.74" fill="#64ff00"/><rect x="246.56" y="250.4" width="2.94" height="2.74" fill="#4ad6ff"/><rect x="252.44" y="250.4" width="2.94" height="2.74" fill="#000000"/><rect x="255.38" y="250.4" width="2.94" height="2.74" fill="#000000"/><rect x="261.25" y="250.4" width="2.94" height="2.74" fill="#000000"/><rect x="70.28" y="247.66" width="2.94" height="2.74" fill="#000000"/><rect x="73.22" y="247.66" width="2.94" height="2.74" fill="#000000"/><rect x="90.85" y="247.66" width="2.94" height="2.74" fill="#0a32ff"/><rect x="93.79" y="247.66" width="2.94" height="2.74" fill="#0000b4"/><rect x="231.87" y="247.66" width="2.94" height="2.74" fill="#000000"/><rect x="234.81" y="247.66" width="2.94" height="2.74" fill="#0a32ff"/><rect x="237.75" y="247.66" width="2.94" height="2.74" fill="#4ad6ff"/><rect x="240.69" y="247.66" width="2.94" height="2.74" fill="#64ff00"/><rect x="243.62" y="247.66" width="2.94" height="2.74" fill="#64ff00"/><rect x="246.56" y="247.66" width="2.94" height="2.74" fill="#64ff00"/><rect x="249.5" y="247.66" width="2.94" height="2.74" fill="#0a32ff"/><rect x="255.38" y="247.66" width="2.94" height="2.74" fill="#000000"/><rect x="258.31" y="247.66" width="2.94" height="2.74" fill="#000000"/><rect x="261.25" y="247.66" width="2.94" height="2.74" fill="#000000"/><rect x="270.07" y="247.66" width="2.94" height="2.74" fill="#000000"/><rect x="273" y="247.66" width="2.94" height="2.74" fill="#000000"/><rect x="73.22" y="244.91" width="2.94" height="2.74" fill="#000000"/><rect x="79.1" y="244.91" width="2.94" height="2.74" fill="#000000"/><rect x="82.03" y="244.91" width="2.94" height="2.74" fill="#000000"/><rect x="84.97" y="244.91" width="2.94" height="2.74" fill="#000000"/><rect x="93.79" y="244.91" width="2.94" height="2.74" fill="#0a32ff"/><rect x="114.35" y="244.91" width="2.94" height="2.74" fill="#000000"/><rect x="131.98" y="244.91" width="2.94" height="2.74" fill="#000000"/><rect x="228.94" y="244.91" width="2.94" height="2.74" fill="#000000"/><rect x="231.87" y="244.91" width="2.94" height="2.74" fill="#000000"/><rect x="234.81" y="244.91" width="2.94" height="2.74" fill="#0000b4"/><rect x="237.75" y="244.91" width="2.94" height="2.74" fill="#4ad6ff"/><rect x="240.69" y="244.91" width="2.94" height="2.74" fill="#64ff00"/><rect x="243.62" y="244.91" width="2.94" height="2.74" fill="#64ff00"/><rect x="246.56" y="244.91" width="2.94" height="2.74" fill="#4ad6ff"/><rect x="249.5" y="244.91" width="2.94" height="2.74" fill="#0a32ff"/><rect x="252.44" y="244.91" width="2.94" height="2.74" fill="#0a32ff"/><rect x="255.38" y="244.91" width="2.94" height="2.74" fill="#0a32ff"/><rect x="258.31" y="244.91" width="2.94" height="2.74" fill="#0a32ff"/><rect x="261.25" y="244.91" width="2.94" height="2.74" fill="#0a32ff"/><rect x="264.19" y="244.91" width="2.94" height="2.74" fill="#0000b4"/><rect x="267.13" y="244.91" width="2.94" height="2.74" fill="#0000b4"/><rect x="270.07" y="244.91" width="2.94" height="2.74" fill="#0000b4"/><rect x="73.22" y="242.17" width="2.94" height="2.74" fill="#000000"/><rect x="79.1" y="242.17" width="2.94" height="2.74" fill="#000000"/><rect x="82.03" y="242.17" width="2.94" height="2.74" fill="#0a32ff"/><rect x="90.85" y="242.17" width="2.94" height="2.74" fill="#000000"/><rect x="234.81" y="242.17" width="2.94" height="2.74" fill="#0a32ff"/><rect x="237.75" y="242.17" width="2.94" height="2.74" fill="#0a32ff"/><rect x="240.69" y="242.17" width="2.94" height="2.74" fill="#4ad6ff"/><rect x="243.62" y="242.17" width="2.94" height="2.74" fill="#64ff00"/><rect x="246.56" y="242.17" width="2.94" height="2.74" fill="#64ff00"/><rect x="249.5" y="242.17" width="2.94" height="2.74" fill="#4ad6ff"/><rect x="252.44" y="242.17" width="2.94" height="2.74" fill="#0a32ff"/><rect x="255.38" y="242.17" width="2.94" height="2.74" fill="#0a32ff"/><rect x="258.31" y="242.17" width="2.94" height="2.74" fill="#4ad6ff"/><rect x="261.25" y="242.17" width="2.94" height="2.74" fill="#0a32ff"/><rect x="264.19" y="242.17" width="2.94" height="2.74" fill="#0a32ff"/><rect x="267.13" y="242.17" width="2.94" height="2.74" fill="#0a32ff"/><rect x="273" y="242.17" width="2.94" height="2.74" fill="#000000"/><rect x="278.88" y="242.17" width="2.94" height="2.74" fill="#000000"/><rect x="73.22" y="239.42" width="2.94" height="2.74" fill="#000000"/><rect x="84.97" y="239.42" width="2.94" height="2.74" fill="#000000"/><rect x="90.85" y="239.42" width="2.94" height="2.74" fill="#000000"/><rect x="96.72" y="239.42" width="2.94" height="2.74" fill="#000000"/><rect x="105.54" y="239.42" width="2.94" height="2.74" fill="#000000"/><rect x="237.75" y="239.42" width="2.94" height="2.74" fill="#000000"/><rect x="240.69" y="239.42" width="2.94" height="2.74" fill="#0a32ff"/><rect x="243.62" y="239.42" width="2.94" height="2.74" fill="#64ff00"/><rect x="246.56" y="239.42" width="2.94" height="2.74" fill="#64ff00"/><rect x="249.5" y="239.42" width="2.94" height="2.74" fill="#64ff00"/><rect x="252.44" y="239.42" width="2.94" height="2.74" fill="#4ad6ff"/><rect x="255.38" y="239.42" width="2.94" height="2.74" fill="#0a32ff"/><rect x="258.31" y="239.42" width="2.94" height="2.74" fill="#4ad6ff"/><rect x="261.25" y="239.42" width="2.94" height="2.74" fill="#0a32ff"/><rect x="264.19" y="239.42" width="2.94" height="2.74" fill="#0a32ff"/><rect x="267.13" y="239.42" width="2.94" height="2.74" fill="#0a32ff"/><rect x="270.07" y="239.42" width="2.94" height="2.74" fill="#0000b4"/><rect x="273" y="239.42" width="2.94" height="2.74" fill="#000000"/><rect x="275.94" y="239.42" width="2.94" height="2.74" fill="#000000"/><rect x="73.22" y="236.68" width="2.94" height="2.74" fill="#000000"/><rect x="240.69" y="236.68" width="2.94" height="2.74" fill="#0a32ff"/><rect x="243.62" y="236.68" width="2.94" height="2.74" fill="#4ad6ff"/><rect x="246.56" y="236.68" width="2.94" height="2.74" fill="#64ff00"/><rect x="249.5" y="236.68" width="2.94" height="2.74" fill="#64ff00"/><rect x="252.44" y="236.68" width="2.94" height="2.74" fill="#64ff00"/><rect x="255.38" y="236.68" width="2.94" height="2.74" fill="#64ff00"/><rect x="258.31" y="236.68" width="2.94" height="2.74" fill="#4ad6ff"/><rect x="261.25" y="236.68" width="2.94" height="2.74" fill="#64ff00"/><rect x="264.19" y="236.68" width="2.94" height="2.74" fill="#0a32ff"/><rect x="267.13" y="236.68" width="2.94" height="2.74" fill="#0a32ff"/><rect x="270.07" y="236.68" width="2.94" height="2.74" fill="#0a32ff"/><rect x="273" y="236.68" width="2.94" height="2.74" fill="#0a32ff"/><rect x="281.82" y="236.68" width="2.94" height="2.74" fill="#000000"/><rect x="93.79" y="233.94" width="2.94" height="2.74" fill="#000000"/><rect x="240.69" y="233.94" width="2.94" height="2.74" fill="#000000"/><rect x="243.62" y="233.94" width="2.94" height="2.74" fill="#0a32ff"/><rect x="246.56" y="233.94" width="2.94" height="2.74" fill="#4ad6ff"/><rect x="249.5" y="233.94" width="2.94" height="2.74" fill="#4ad6ff"/><rect x="252.44" y="233.94" width="2.94" height="2.74" fill="#64ff00"/><rect x="255.38" y="233.94" width="2.94" height="2.74" fill="#64ff00"/><rect x="258.31" y="233.94" width="2.94" height="2.74" fill="#64ff00"/><rect x="261.25" y="233.94" width="2.94" height="2.74" fill="#64ff00"/><rect x="264.19" y="233.94" width="2.94" height="2.74" fill="#4ad6ff"/><rect x="267.13" y="233.94" width="2.94" height="2.74" fill="#0a32ff"/><rect x="270.07" y="233.94" width="2.94" height="2.74" fill="#0a32ff"/><rect x="273" y="233.94" width="2.94" height="2.74" fill="#0a32ff"/><rect x="281.82" y="233.94" width="2.94" height="2.74" fill="#000000"/><rect x="73.22" y="231.19" width="2.94" height="2.74" fill="#000000"/><rect x="240.69" y="231.19" width="2.94" height="2.74" fill="#0000b4"/><rect x="243.62" y="231.19" width="2.94" height="2.74" fill="#0a32ff"/><rect x="246.56" y="231.19" width="2.94" height="2.74" fill="#4ad6ff"/><rect x="249.5" y="231.19" width="2.94" height="2.74" fill="#4ad6ff"/><rect x="252.44" y="231.19" width="2.94" height="2.74" fill="#0a32ff"/><rect x="255.38" y="231.19" width="2.94" height="2.74" fill="#4ad6ff"/><rect x="258.31" y="231.19" width="2.94" height="2.74" fill="#64ff00"/><rect x="261.25" y="231.19" width="2.94" height="2.74" fill="#64ff00"/><rect x="264.19" y="231.19" width="2.94" height="2.74" fill="#64ff00"/><rect x="267.13" y="231.19" width="2.94" height="2.74" fill="#4ad6ff"/><rect x="270.07" y="231.19" width="2.94" height="2.74" fill="#0a32ff"/><rect x="273" y="231.19" width="2.94" height="2.74" fill="#0a32ff"/><rect x="275.94" y="231.19" width="2.94" height="2.74" fill="#0a32ff"/><rect x="278.88" y="231.19" width="2.94" height="2.74" fill="#000000"/><rect x="284.76" y="231.19" width="2.94" height="2.74" fill="#000000"/><rect x="90.85" y="228.45" width="2.94" height="2.74" fill="#000000"/><rect x="93.79" y="228.45" width="2.94" height="2.74" fill="#000000"/><rect x="243.62" y="228.45" width="2.94" height="2.74" fill="#0000b4"/><rect x="246.56" y="228.45" width="2.94" height="2.74" fill="#0a32ff"/><rect x="249.5" y="228.45" width="2.94" height="2.74" fill="#4ad6ff"/><rect x="252.44" y="228.45" width="2.94" height="2.74" fill="#0a32ff"/><rect x="255.38" y="228.45" width="2.94" height="2.74" fill="#4ad6ff"/><rect x="258.31" y="228.45" width="2.94" height="2.74" fill="#4ad6ff"/><rect x="261.25" y="228.45" width="2.94" height="2.74" fill="#64ff00"/><rect x="264.19" y="228.45" width="2.94" height="2.74" fill="#64ff00"/><rect x="267.13" y="228.45" width="2.94" height="2.74" fill="#64ff00"/><rect x="270.07" y="228.45" width="2.94" height="2.74" fill="#4ad6ff"/><rect x="273" y="228.45" width="2.94" height="2.74" fill="#0a32ff"/><rect x="275.94" y="228.45" width="2.94" height="2.74" fill="#0a32ff"/><rect x="281.82" y="228.45" width="2.94" height="2.74" fill="#0000b4"/><rect x="73.22" y="225.7" width="2.94" height="2.74" fill="#000000"/><rect x="84.97" y="225.7" width="2.94" height="2.74" fill="#000000"/><rect x="246.56" y="225.7" width="2.94" height="2.74" fill="#0a32ff"/><rect x="249.5" y="225.7" width="2.94" height="2.74" fill="#0a32ff"/><rect x="252.44" y="225.7" width="2.94" height="2.74" fill="#0a32ff"/><rect x="255.38" y="225.7" width="2.94" height="2.74" fill="#4ad6ff"/><rect x="258.31" y="225.7" width="2.94" height="2.74" fill="#0a32ff"/><rect x="261.25" y="225.7" width="2.94" height="2.74" fill="#4ad6ff"/><rect x="264.19" y="225.7" width="2.94" height="2.74" fill="#64ff00"/><rect x="267.13" y="225.7" width="2.94" height="2.74" fill="#64ff00"/><rect x="270.07" y="225.7" width="2.94" height="2.74" fill="#4ad6ff"/><rect x="273" y="225.7" width="2.94" height="2.74" fill="#4ad6ff"/><rect x="275.94" y="225.7" width="2.94" height="2.74" fill="#0a32ff"/><rect x="278.88" y="225.7" width="2.94" height="2.74" fill="#0000b4"/><rect x="281.82" y="225.7" width="2.94" height="2.74" fill="#000000"/><rect x="284.76" y="225.7" width="2.94" height="2.74" fill="#000000"/><rect x="82.03" y="222.96" width="2.94" height="2.74" fill="#000000"/><rect x="237.75" y="222.96" width="2.94" height="2.74" fill="#000000"/><rect x="246.56" y="222.96" width="2.94" height="2.74" fill="#000000"/><rect x="249.5" y="222.96" width="2.94" height="2.74" fill="#000000"/><rect x="252.44" y="222.96" width="2.94" height="2.74" fill="#0a32ff"/><rect x="255.38" y="222.96" width="2.94" height="2.74" fill="#0a32ff"/><rect x="258.31" y="222.96" width="2.94" height="2.74" fill="#0a32ff"/><rect x="261.25" y="222.96" width="2.94" height="2.74" fill="#0a32ff"/><rect x="264.19" y="222.96" width="2.94" height="2.74" fill="#4ad6ff"/><rect x="267.13" y="222.96" width="2.94" height="2.74" fill="#64ff00"/><rect x="270.07" y="222.96" width="2.94" height="2.74" fill="#64ff00"/><rect x="273" y="222.96" width="2.94" height="2.74" fill="#4ad6ff"/><rect x="275.94" y="222.96" width="2.94" height="2.74" fill="#4ad6ff"/><rect x="278.88" y="222.96" width="2.94" height="2.74" fill="#0a32ff"/><rect x="281.82" y="222.96" width="2.94" height="2.74" fill="#0a32ff"/><rect x="284.76" y="222.96" width="2.94" height="2.74" fill="#000000"/><rect x="287.7" y="222.96" width="2.94" height="2.74" fill="#000000"/><rect x="246.56" y="220.21" width="2.94" height="2.74" fill="#000000"/><rect x="249.5" y="220.21" width="2.94" height="2.74" fill="#000000"/><rect x="255.38" y="220.21" width="2.94" height="2.74" fill="#0a32ff"/><rect x="258.31" y="220.21" width="2.94" height="2.74" fill="#0a32ff"/><rect x="261.25" y="220.21" width="2.94" height="2.74" fill="#4ad6ff"/><rect x="264.19" y="220.21" width="2.94" height="2.74" fill="#4ad6ff"/><rect x="267.13" y="220.21" width="2.94" height="2.74" fill="#64ff00"/><rect x="270.07" y="220.21" width="2.94" height="2.74" fill="#64ff00"/><rect x="273" y="220.21" width="2.94" height="2.74" fill="#64ff00"/><rect x="275.94" y="220.21" width="2.94" height="2.74" fill="#4ad6ff"/><rect x="278.88" y="220.21" width="2.94" height="2.74" fill="#0a32ff"/><rect x="281.82" y="220.21" width="2.94" height="2.74" fill="#0a32ff"/><rect x="284.76" y="220.21" width="2.94" height="2.74" fill="#0000b4"/><rect x="255.38" y="217.47" width="2.94" height="2.74" fill="#0a32ff"/><rect x="258.31" y="217.47" width="2.94" height="2.74" fill="#0a32ff"/><rect x="261.25" y="217.47" width="2.94" height="2.74" fill="#4ad6ff"/><rect x="264.19" y="217.47" width="2.94" height="2.74" fill="#4ad6ff"/><rect x="267.13" y="217.47" width="2.94" height="2.74" fill="#4ad6ff"/><rect x="270.07" y="217.47" width="2.94" height="2.74" fill="#4ad6ff"/><rect x="273" y="217.47" width="2.94" height="2.74" fill="#64ff00"/><rect x="275.94" y="217.47" width="2.94" height="2.74" fill="#4ad6ff"/><rect x="278.88" y="217.47" width="2.94" height="2.74" fill="#4ad6ff"/><rect x="281.82" y="217.47" width="2.94" height="2.74" fill="#0a32ff"/><rect x="284.76" y="217.47" width="2.94" height="2.74" fill="#0a32ff"/><rect x="287.7" y="217.47" width="2.94" height="2.74" fill="#0a32ff"/><rect x="258.31" y="214.72" width="2.94" height="2.74" fill="#000000"/><rect x="261.25" y="214.72" width="2.94" height="2.74" fill="#0a32ff"/><rect x="264.19" y="214.72" width="2.94" height="2.74" fill="#0a32ff"/><rect x="267.13" y="214.72" width="2.94" height="2.74" fill="#4ad6ff"/><rect x="270.07" y="214.72" width="2.94" height="2.74" fill="#0a32ff"/><rect x="273" y="214.72" width="2.94" height="2.74" fill="#4ad6ff"/><rect x="275.94" y="214.72" width="2.94" height="2.74" fill="#64ff00"/><rect x="278.88" y="214.72" width="2.94" height="2.74" fill="#4ad6ff"/><rect x="281.82" y="214.72" width="2.94" height="2.74" fill="#4ad6ff"/><rect x="284.76" y="214.72" width="2.94" height="2.74" fill="#0a32ff"/><rect x="287.7" y="214.72" width="2.94" height="2.74" fill="#0a32ff"/><rect x="290.63" y="214.72" width="2.94" height="2.74" fill="#000000"/><rect x="299.45" y="214.72" width="2.94" height="2.74" fill="#000000"/><rect x="82.03" y="211.98" width="2.94" height="2.74" fill="#000000"/><rect x="261.25" y="211.98" width="2.94" height="2.74" fill="#0a32ff"/><rect x="264.19" y="211.98" width="2.94" height="2.74" fill="#0a32ff"/><rect x="267.13" y="211.98" width="2.94" height="2.74" fill="#0a32ff"/><rect x="270.07" y="211.98" width="2.94" height="2.74" fill="#4ad6ff"/><rect x="273" y="211.98" width="2.94" height="2.74" fill="#4ad6ff"/><rect x="275.94" y="211.98" width="2.94" height="2.74" fill="#4ad6ff"/><rect x="278.88" y="211.98" width="2.94" height="2.74" fill="#64ff00"/><rect x="281.82" y="211.98" width="2.94" height="2.74" fill="#64ff00"/><rect x="284.76" y="211.98" width="2.94" height="2.74" fill="#4ad6ff"/><rect x="287.7" y="211.98" width="2.94" height="2.74" fill="#4ad6ff"/><rect x="290.63" y="211.98" width="2.94" height="2.74" fill="#0a32ff"/><rect x="293.57" y="211.98" width="2.94" height="2.74" fill="#000000"/><rect x="249.5" y="209.23" width="2.94" height="2.74" fill="#000000"/><rect x="264.19" y="209.23" width="2.94" height="2.74" fill="#0a32ff"/><rect x="267.13" y="209.23" width="2.94" height="2.74" fill="#0a32ff"/><rect x="270.07" y="209.23" width="2.94" height="2.74" fill="#0a32ff"/><rect x="273" y="209.23" width="2.94" height="2.74" fill="#0a32ff"/><rect x="275.94" y="209.23" width="2.94" height="2.74" fill="#4ad6ff"/><rect x="278.88" y="209.23" width="2.94" height="2.74" fill="#4ad6ff"/><rect x="281.82" y="209.23" width="2.94" height="2.74" fill="#64ff00"/><rect x="284.76" y="209.23" width="2.94" height="2.74" fill="#64ff00"/><rect x="287.7" y="209.23" width="2.94" height="2.74" fill="#4ad6ff"/><rect x="290.63" y="209.23" width="2.94" height="2.74" fill="#0a32ff"/><rect x="293.57" y="209.23" width="2.94" height="2.74" fill="#0000b4"/><rect x="296.51" y="209.23" width="2.94" height="2.74" fill="#000000"/><rect x="299.45" y="209.23" width="2.94" height="2.74" fill="#000000"/><rect x="264.19" y="206.49" width="2.94" height="2.74" fill="#000000"/><rect x="270.07" y="206.49" width="2.94" height="2.74" fill="#0000b4"/><rect x="273" y="206.49" width="2.94" height="2.74" fill="#0a32ff"/><rect x="275.94" y="206.49" width="2.94" height="2.74" fill="#0a32ff"/><rect x="278.88" y="206.49" width="2.94" height="2.74" fill="#4ad6ff"/><rect x="281.82" y="206.49" width="2.94" height="2.74" fill="#4ad6ff"/><rect x="284.76" y="206.49" width="2.94" height="2.74" fill="#64ff00"/><rect x="287.7" y="206.49" width="2.94" height="2.74" fill="#64ff00"/><rect x="290.63" y="206.49" width="2.94" height="2.74" fill="#64ff00"/><rect x="293.57" y="206.49" width="2.94" height="2.74" fill="#0a32ff"/><rect x="296.51" y="206.49" width="2.94" height="2.74" fill="#0a32ff"/><rect x="267.13" y="203.74" width="2.94" height="2.74" fill="#0000b4"/><rect x="270.07" y="203.74" width="2.94" height="2.74" fill="#000000"/><rect x="273" y="203.74" width="2.94" height="2.74" fill="#0a32ff"/><rect x="278.88" y="203.74" width="2.94" height="2.74" fill="#0a32ff"/><rect x="281.82" y="203.74" width="2.94" height="2.74" fill="#0a32ff"/><rect x="284.76" y="203.74" width="2.94" height="2.74" fill="#4ad6ff"/><rect x="287.7" y="203.74" width="2.94" height="2.74" fill="#64ff00"/><rect x="290.63" y="203.74" width="2.94" height="2.74" fill="#64ff00"/><rect x="293.57" y="203.74" width="2.94" height="2.74" fill="#4ad6ff"/><rect x="296.51" y="203.74" width="2.94" height="2.74" fill="#0a32ff"/><rect x="299.45" y="203.74" width="2.94" height="2.74" fill="#000000"/><rect x="302.38" y="203.74" width="2.94" height="2.74" fill="#000000"/><rect x="305.32" y="203.74" width="2.94" height="2.74" fill="#000000"/><rect x="87.91" y="201" width="2.94" height="2.74" fill="#000000"/><rect x="90.85" y="201" width="2.94" height="2.74" fill="#000000"/><rect x="273" y="201" width="2.94" height="2.74" fill="#000000"/><rect x="275.94" y="201" width="2.94" height="2.74" fill="#0a32ff"/><rect x="278.88" y="201" width="2.94" height="2.74" fill="#000000"/><rect x="281.82" y="201" width="2.94" height="2.74" fill="#0a32ff"/><rect x="284.76" y="201" width="2.94" height="2.74" fill="#0a32ff"/><rect x="287.7" y="201" width="2.94" height="2.74" fill="#4ad6ff"/><rect x="290.63" y="201" width="2.94" height="2.74" fill="#64ff00"/><rect x="293.57" y="201" width="2.94" height="2.74" fill="#4ad6ff"/><rect x="296.51" y="201" width="2.94" height="2.74" fill="#4ad6ff"/><rect x="299.45" y="201" width="2.94" height="2.74" fill="#0a32ff"/><rect x="302.38" y="201" width="2.94" height="2.74" fill="#0000b4"/><rect x="305.32" y="201" width="2.94" height="2.74" fill="#0a32ff"/><rect x="82.03" y="198.25" width="2.94" height="2.74" fill="#000000"/><rect x="278.88" y="198.25" width="2.94" height="2.74" fill="#0000b4"/><rect x="281.82" y="198.25" width="2.94" height="2.74" fill="#0a32ff"/><rect x="284.76" y="198.25" width="2.94" height="2.74" fill="#0a32ff"/><rect x="287.7" y="198.25" width="2.94" height="2.74" fill="#0a32ff"/><rect x="290.63" y="198.25" width="2.94" height="2.74" fill="#4ad6ff"/><rect x="293.57" y="198.25" width="2.94" height="2.74" fill="#4ad6ff"/><rect x="296.51" y="198.25" width="2.94" height="2.74" fill="#4ad6ff"/><rect x="299.45" y="198.25" width="2.94" height="2.74" fill="#0a32ff"/><rect x="302.38" y="198.25" width="2.94" height="2.74" fill="#0a32ff"/><rect x="305.32" y="198.25" width="2.94" height="2.74" fill="#0a32ff"/><rect x="284.76" y="195.51" width="2.94" height="2.74" fill="#0000b4"/><rect x="287.7" y="195.51" width="2.94" height="2.74" fill="#0a32ff"/><rect x="290.63" y="195.51" width="2.94" height="2.74" fill="#4ad6ff"/><rect x="293.57" y="195.51" width="2.94" height="2.74" fill="#4ad6ff"/><rect x="296.51" y="195.51" width="2.94" height="2.74" fill="#4ad6ff"/><rect x="299.45" y="195.51" width="2.94" height="2.74" fill="#4ad6ff"/><rect x="302.38" y="195.51" width="2.94" height="2.74" fill="#0a32ff"/><rect x="305.32" y="195.51" width="2.94" height="2.74" fill="#0a32ff"/><rect x="311.2" y="195.51" width="2.94" height="2.74" fill="#0000b4"/><rect x="96.72" y="192.77" width="2.94" height="2.74" fill="#000000"/><rect x="284.76" y="192.77" width="2.94" height="2.74" fill="#000000"/><rect x="287.7" y="192.77" width="2.94" height="2.74" fill="#000000"/><rect x="290.63" y="192.77" width="2.94" height="2.74" fill="#000000"/><rect x="293.57" y="192.77" width="2.94" height="2.74" fill="#0a32ff"/><rect x="296.51" y="192.77" width="2.94" height="2.74" fill="#4ad6ff"/><rect x="299.45" y="192.77" width="2.94" height="2.74" fill="#4ad6ff"/><rect x="302.38" y="192.77" width="2.94" height="2.74" fill="#0a32ff"/><rect x="305.32" y="192.77" width="2.94" height="2.74" fill="#0a32ff"/><rect x="308.26" y="192.77" width="2.94" height="2.74" fill="#0a32ff"/><rect x="290.63" y="190.02" width="2.94" height="2.74" fill="#0a32ff"/><rect x="293.57" y="190.02" width="2.94" height="2.74" fill="#0000b4"/><rect x="296.51" y="190.02" width="2.94" height="2.74" fill="#0a32ff"/><rect x="299.45" y="190.02" width="2.94" height="2.74" fill="#4ad6ff"/><rect x="302.38" y="190.02" width="2.94" height="2.74" fill="#4ad6ff"/><rect x="305.32" y="190.02" width="2.94" height="2.74" fill="#0a32ff"/><rect x="308.26" y="190.02" width="2.94" height="2.74" fill="#0000b4"/><rect x="311.2" y="190.02" width="2.94" height="2.74" fill="#000000"/><rect x="314.14" y="190.02" width="2.94" height="2.74" fill="#000000"/><rect x="290.63" y="187.28" width="2.94" height="2.74" fill="#0a32ff"/><rect x="293.57" y="187.28" width="2.94" height="2.74" fill="#000000"/><rect x="296.51" y="187.28" width="2.94" height="2.74" fill="#0a32ff"/><rect x="299.45" y="187.28" width="2.94" height="2.74" fill="#4ad6ff"/><rect x="302.38" y="187.28" width="2.94" height="2.74" fill="#4ad6ff"/><rect x="305.32" y="187.28" width="2.94" height="2.74" fill="#4ad6ff"/><rect x="308.26" y="187.28" width="2.94" height="2.74" fill="#0a32ff"/><rect x="311.2" y="187.28" width="2.94" height="2.74" fill="#0000b4"/><rect x="314.14" y="187.28" width="2.94" height="2.74" fill="#0a32ff"/><rect x="320.01" y="187.28" width="2.94" height="2.74" fill="#000000"/><rect x="290.63" y="184.53" width="2.94" height="2.74" fill="#000000"/><rect x="293.57" y="184.53" width="2.94" height="2.74" fill="#000000"/><rect x="302.38" y="184.53" width="2.94" height="2.74" fill="#0a32ff"/><rect x="305.32" y="184.53" width="2.94" height="2.74" fill="#4ad6ff"/><rect x="308.26" y="184.53" width="2.94" height="2.74" fill="#0a32ff"/><rect x="311.2" y="184.53" width="2.94" height="2.74" fill="#0a32ff"/><rect x="314.14" y="184.53" width="2.94" height="2.74" fill="#0000b4"/><rect x="317.07" y="184.53" width="2.94" height="2.74" fill="#0a32ff"/><rect x="290.63" y="181.79" width="2.94" height="2.74" fill="#000000"/><rect x="296.51" y="181.79" width="2.94" height="2.74" fill="#000000"/><rect x="302.38" y="181.79" width="2.94" height="2.74" fill="#0a32ff"/><rect x="305.32" y="181.79" width="2.94" height="2.74" fill="#0a32ff"/><rect x="308.26" y="181.79" width="2.94" height="2.74" fill="#0a32ff"/><rect x="311.2" y="181.79" width="2.94" height="2.74" fill="#0a32ff"/><rect x="314.14" y="181.79" width="2.94" height="2.74" fill="#0a32ff"/><rect x="317.07" y="181.79" width="2.94" height="2.74" fill="#0a32ff"/><rect x="296.51" y="179.04" width="2.94" height="2.74" fill="#000000"/><rect x="299.45" y="179.04" width="2.94" height="2.74" fill="#000000"/><rect x="305.32" y="179.04" width="2.94" height="2.74" fill="#0000b4"/><rect x="308.26" y="179.04" width="2.94" height="2.74" fill="#0a32ff"/><rect x="311.2" y="179.04" width="2.94" height="2.74" fill="#0a32ff"/><rect x="314.14" y="179.04" width="2.94" height="2.74" fill="#0a32ff"/><rect x="317.07" y="179.04" width="2.94" height="2.74" fill="#0a32ff"/><rect x="320.01" y="179.04" width="2.94" height="2.74" fill="#0a32ff"/><rect x="302.38" y="176.3" width="2.94" height="2.74" fill="#000000"/><rect x="308.26" y="176.3" width="2.94" height="2.74" fill="#0a32ff"/><rect x="311.2" y="176.3" width="2.94" height="2.74" fill="#0a32ff"/><rect x="314.14" y="176.3" width="2.94" height="2.74" fill="#0a32ff"/><rect x="317.07" y="176.3" width="2.94" height="2.74" fill="#0a32ff"/><rect x="320.01" y="176.3" width="2.94" height="2.74" fill="#0a32ff"/><rect x="325.89" y="176.3" width="2.94" height="2.74" fill="#000000"/><rect x="305.32" y="173.55" width="2.94" height="2.74" fill="#0000b4"/><rect x="308.26" y="173.55" width="2.94" height="2.74" fill="#0a32ff"/><rect x="311.2" y="173.55" width="2.94" height="2.74" fill="#0a32ff"/><rect x="314.14" y="173.55" width="2.94" height="2.74" fill="#0a32ff"/><rect x="317.07" y="173.55" width="2.94" height="2.74" fill="#0a32ff"/><rect x="320.01" y="173.55" width="2.94" height="2.74" fill="#0a32ff"/><rect x="322.95" y="173.55" width="2.94" height="2.74" fill="#0a32ff"/><rect x="290.63" y="170.81" width="2.94" height="2.74" fill="#000000"/><rect x="308.26" y="170.81" width="2.94" height="2.74" fill="#0000b4"/><rect x="311.2" y="170.81" width="2.94" height="2.74" fill="#0000b4"/><rect x="314.14" y="170.81" width="2.94" height="2.74" fill="#0a32ff"/><rect x="317.07" y="170.81" width="2.94" height="2.74" fill="#0a32ff"/><rect x="320.01" y="170.81" width="2.94" height="2.74" fill="#0088ff"/><rect x="322.95" y="170.81" width="2.94" height="2.74" fill="#0a32ff"/><rect x="325.89" y="170.81" width="2.94" height="2.74" fill="#0a32ff"/><rect x="328.83" y="170.81" width="2.94" height="2.74" fill="#0a32ff"/><rect x="314.14" y="168.06" width="2.94" height="2.74" fill="#0a32ff"/><rect x="317.07" y="168.06" width="2.94" height="2.74" fill="#0a32ff"/><rect x="320.01" y="168.06" width="2.94" height="2.74" fill="#0a32ff"/><rect x="322.95" y="168.06" width="2.94" height="2.74" fill="#0a32ff"/><rect x="325.89" y="168.06" width="2.94" height="2.74" fill="#0a32ff"/></g>
<line x1="60" y1="419.2" x2="500.7" y2="7.5" stroke="#000" stroke-width="1.5"/>
<path d="M60 419.2V411.7M60 7.5V15M60 419.2H67.5M500.7 419.2H493.2M74.69 419.2V415.4M74.69 7.5V11.3M60 405.48H63.8M500.7 405.48H496.9M89.38 419.2V415.4M89.38 7.5V11.3M60 391.75H63.8M500.7 391.75H496.9M104.07 419.2V415.4M104.07 7.5V11.3M60 378.03H63.8M500.7 378.03H496.9M118.76 419.2V415.4M118.76 7.5V11.3M60 364.31H63.8M500.7 364.31H496.9M133.45 419.2V411.7M133.45 7.5V15M60 350.58H67.5M500.7 350.58H493.2M148.14 419.2V415.4M148.14 7.5V11.3M60 336.86H63.8M500.7 336.86H496.9M162.83 419.2V415.4M162.83 7.5V11.3M60 323.14H63.8M500.7 323.14H496.9M177.52 419.2V415.4M177.52 7.5V11.3M60 309.41H63.8M500.7 309.41H496.9M192.21 419.2V415.4M192.21 7.5V11.3M60 295.69H63.8M500.7 295.69H496.9M206.9 419.2V411.7M206.9 7.5V15M60 281.97H67.5M500.7 281.97H493.2M221.59 419.2V415.4M221.59 7.5V11.3M60 268.24H63.8M500.7 268.24H496.9M236.28 419.2V415.4M236.28 7.5V11.3M60 254.52H63.8M500.7 254.52H496.9M250.97 419.2V415.4M250.97 7.5V11.3M60 240.8H63.8M500.7 240.8H496.9M265.66 419.2V415.4M265.66 7.5V11.3M60 227.07H63.8M500.7 227.07H496.9M280.35 419.2V411.7M280.35 7.5V15M60 213.35H67.5M500.7 213.35H493.2M295.04 419.2V415.4M295.04 7.5V11.3M60 199.63H63.8M500.7 199.63H496.9M309.73 419.2V415.4M309.73 7.5V11.3M60 185.9H63.8M500.7 185.9H496.9M324.42 419.2V415.4M324.42 7.5V11.3M60 172.18H63.8M500.7 172.18H496.9M339.11 419.2V415.4M339.11 7.5V11.3M60 158.46H63.8M500.7 158.46H496.9M353.8 419.2V411.7M353.8 7.5V15M60 144.73H67.5M500.7 144.73H493.2M368.49 419.2V415.4M368.49 7.5V11.3M60 131.01H63.8M500.7 131.01H496.9M383.18 419.2V415.4M383.18 7.5V11.3M60 117.29H63.8M500.7 117.29H496.9M397.87 419.2V415.4M397.87 7.5V11.3M60 103.56H63.8M500.7 103.56H496.9M412.56 419.2V415.4M412.56 7.5V11.3M60 89.84H63.8M500.7 89.84H496.9M427.25 419.2V411.7M427.25 7.5V15M60 76.12H67.5M500.7 76.12H493.2M441.94 419.2V415.4M441.94 7.5V11.3M60 62.39H63.8M500.7 62.39H496.9M456.63 419.2V415.4M456.63 7.5V11.3M60 48.67H63.8M500.7 48.67H496.9M471.32 419.2V415.4M471.32 7.5V11.3M60 34.95H63.8M500.7 34.95H496.9M486.01 419.2V415.4M486.01 7.5V11.3M60 21.22H63.8M500.7 21.22H496.9M500.7 419.2V411.7M500.7 7.5V15M60 7.5H67.5M500.7 7.5H493.2" stroke="#1e1e1e" stroke-width="1.45" fill="none"/>
<rect x="60" y="7.5" width="440.7" height="411.7" fill="none" stroke="#1e1e1e" stroke-width="1.85"/>
<g font-family='"DejaVu Serif", "Liberation Serif", serif' font-size="15.4" fill="#000" stroke="#000" stroke-width="0.15"><text transform="translate(49.8 424.1) scale(1.13 1)" text-anchor="end">0</text><text transform="translate(60.2 438.4) scale(1.13 1)" text-anchor="middle">0</text><text transform="translate(49.8 355.48) scale(1.13 1)" text-anchor="end">1</text><text transform="translate(133.65 438.4) scale(1.13 1)" text-anchor="middle">1</text><text transform="translate(49.8 286.87) scale(1.13 1)" text-anchor="end">2</text><text transform="translate(207.1 438.4) scale(1.13 1)" text-anchor="middle">2</text><text transform="translate(49.8 218.25) scale(1.13 1)" text-anchor="end">3</text><text transform="translate(280.55 438.4) scale(1.13 1)" text-anchor="middle">3</text><text transform="translate(49.8 149.63) scale(1.13 1)" text-anchor="end">4</text><text transform="translate(354 438.4) scale(1.13 1)" text-anchor="middle">4</text><text transform="translate(49.8 81.02) scale(1.13 1)" text-anchor="end">5</text><text transform="translate(427.45 438.4) scale(1.13 1)" text-anchor="middle">5</text><text transform="translate(49.8 12.4) scale(1.13 1)" text-anchor="end">6</text><text transform="translate(500.9 438.4) scale(1.13 1)" text-anchor="middle">6</text></g>
<g font-family='"DejaVu Serif", "Liberation Serif", serif' fill="#000">
<text x="245.2" y="454.8" font-size="17" stroke="#000" stroke-width="0.55" textLength="9.4" lengthAdjust="spacingAndGlyphs">z</text>
<text x="255.1" y="461.4" font-size="13" font-weight="bold" textLength="31.5" lengthAdjust="spacingAndGlyphs">spec</text>
<g transform="translate(10.2 232.2) rotate(-90)">
<text x="0" y="0" font-size="17" stroke="#000" stroke-width="0.55" textLength="8.2" lengthAdjust="spacingAndGlyphs">z</text>
<text x="10" y="7.9" font-size="14" font-weight="bold" textLength="32.6" lengthAdjust="spacingAndGlyphs">phot</text>
</g>
</g>
<g font-family='"DejaVu Serif", "Liberation Serif", serif' fill="#000" font-size="15" stroke="#000" stroke-width="0.25">
<text x="280.6" y="282.8" textLength="11.4" lengthAdjust="spacingAndGlyphs">N</text>
<text x="291.1" y="289.4" font-size="11.6" font-weight="normal" stroke-width="0.6" textLength="17.6" lengthAdjust="spacingAndGlyphs">gal</text>
<text x="317.3" y="282.7" textLength="10.8" lengthAdjust="spacingAndGlyphs">=</text>
<text x="337.1" y="282.4" textLength="78.8" lengthAdjust="spacingAndGlyphs">25.739023</text>
<text x="281" y="317.8" textLength="8.4" lengthAdjust="spacingAndGlyphs">z</text>
<text x="289.1" y="322.5" font-size="11.6" font-weight="normal" stroke-width="0.6" textLength="25.6" lengthAdjust="spacingAndGlyphs">med</text>
<text x="324.1" y="319.1" textLength="10.8" lengthAdjust="spacingAndGlyphs">=</text>
<text x="342.1" y="318.2" textLength="32.9" lengthAdjust="spacingAndGlyphs">0.84</text>
<text x="281" y="351.6" font-style="italic" font-size="15.5" textLength="9.4" lengthAdjust="spacingAndGlyphs">σ</text>
<text x="290.6" y="356.6" font-size="11.6" font-weight="normal" stroke-width="0.6" textLength="52.6" lengthAdjust="spacingAndGlyphs">Δz/(1+z)</text>
<text x="353.6" y="352.3" textLength="10.7" lengthAdjust="spacingAndGlyphs">=</text>
<text x="371.9" y="351.4" textLength="69.5" lengthAdjust="spacingAndGlyphs">0.061994</text>
<text x="281" y="385.3" textLength="9.1" lengthAdjust="spacingAndGlyphs">F</text>
<text x="290.3" y="390.6" font-size="11.6" font-weight="normal" stroke-width="0.6" textLength="25" lengthAdjust="spacingAndGlyphs">cata</text>
<text x="324.1" y="385.8" textLength="10.9" lengthAdjust="spacingAndGlyphs">=</text>
<text x="343.7" y="385.1" textLength="69.7" lengthAdjust="spacingAndGlyphs">0.006284</text>
</g></svg>
</body></html>
